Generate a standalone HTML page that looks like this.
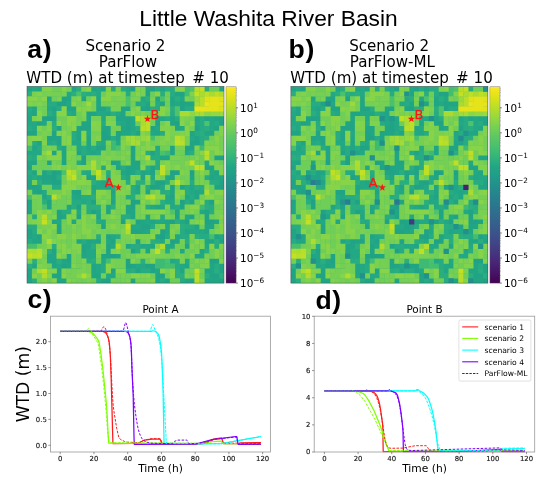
<!DOCTYPE html>
<html><head><meta charset="utf-8"><title>Little Washita River Basin</title>
<style>
html,body{margin:0;padding:0;background:#fff;}
body{width:550px;height:484px;overflow:hidden;}
svg{display:block;}
.ar{font-family:"Liberation Sans",Arial,Helvetica,sans-serif;fill:#000;}
.b{font-weight:bold;}
.dv{font-family:"DejaVu Sans","Liberation Sans",sans-serif;}
</style></head><body>
<svg width="550" height="484" viewBox="0 0 550 484">
<rect width="550" height="484" fill="#fff"/>
<text x="268.5" y="26.2" font-size="22.75" class="ar" text-anchor="middle">Little Washita River Basin</text>
<text x="27.3" y="58.3" font-size="26.6" letter-spacing="0.6" class="ar b">a)</text>
<text x="288.6" y="58.3" font-size="26.6" letter-spacing="0.6" class="ar b">b)</text>
<text x="27.4" y="308.4" font-size="26.6" letter-spacing="0.6" class="ar b">c)</text>
<text x="315.4" y="308.6" font-size="26.6" letter-spacing="0.6" class="ar b">d)</text>
<text x="125.4" y="50.5" font-size="15.1" class="dv" text-anchor="middle">Scenario 2</text>
<text x="127.9" y="66.9" font-size="15.1" class="dv" text-anchor="middle">ParFlow</text>
<text y="83.4" font-size="15.1" class="dv"><tspan x="26.3">WTD (m) at timestep</tspan><tspan x="192.2"># 10</tspan></text>
<text x="389.2" y="50.5" font-size="15.1" class="dv" text-anchor="middle">Scenario 2</text>
<text x="392.4" y="66.9" font-size="15.1" class="dv" text-anchor="middle">ParFlow-ML</text>
<text y="83.4" font-size="15.1" class="dv"><tspan x="290.2">WTD (m) at timestep</tspan><tspan x="456.1"># 10</tspan></text>
<defs><g id="hm"><path fill="#20a287" d="M130.4 86.5h5.2v5.2h-5.2zM150.1 86.5h5.2v5.2h-5.2zM61.5 96.3h5.2v5.2h-5.2zM56.5 101.2h10.2v5.2h-10.2zM145.2 106.2h5.2v5.2h-5.2zM41.8 116.0h10.2v5.2h-10.2zM36.9 120.9h5.2v5.2h-5.2zM155.0 120.9h5.2v5.2h-5.2zM174.8 120.9h5.2v5.2h-5.2zM219.1 120.9h5.2v5.2h-5.2zM56.5 125.8h5.2v5.2h-5.2zM125.5 125.8h5.2v5.2h-5.2zM194.4 125.8h5.2v5.2h-5.2zM100.9 130.7h5.2v5.2h-5.2zM100.9 135.7h10.2v5.2h-10.2zM194.4 140.6h5.2v5.2h-5.2zM76.2 150.4h5.2v5.2h-5.2zM81.2 155.3h5.2v5.2h-5.2zM61.5 160.2h5.2v5.2h-5.2zM81.2 160.2h5.2v5.2h-5.2zM110.7 160.2h5.2v5.2h-5.2zM27.0 165.1h5.2v5.2h-5.2zM51.6 170.1h5.2v5.2h-5.2zM125.5 170.1h5.2v5.2h-5.2zM169.8 170.1h5.2v5.2h-5.2zM189.5 170.1h5.2v5.2h-5.2zM51.6 175.0h5.2v5.2h-5.2zM86.1 175.0h5.2v5.2h-5.2zM51.6 179.9h5.2v5.2h-5.2zM160.0 179.9h5.2v5.2h-5.2zM150.1 184.8h5.2v5.2h-5.2zM219.1 184.8h5.2v5.2h-5.2zM36.9 189.7h5.2v5.2h-5.2zM76.2 189.7h5.2v5.2h-5.2zM46.7 199.5h5.2v5.2h-5.2zM91.0 199.5h5.2v5.2h-5.2zM130.4 199.5h5.2v5.2h-5.2zM179.7 199.5h5.2v5.2h-5.2zM209.2 199.5h5.2v5.2h-5.2zM76.2 204.5h5.2v5.2h-5.2zM130.4 204.5h5.2v5.2h-5.2zM56.5 209.4h5.2v5.2h-5.2zM91.0 209.4h5.2v5.2h-5.2zM56.5 214.3h5.2v5.2h-5.2zM76.2 214.3h5.2v5.2h-5.2zM120.6 219.2h5.2v5.2h-5.2zM169.8 219.2h5.2v5.2h-5.2zM184.6 219.2h5.2v5.2h-5.2zM204.3 219.2h10.2v5.2h-10.2zM160.0 234.0h5.2v5.2h-5.2zM214.2 234.0h5.2v5.2h-5.2zM169.8 238.9h5.2v5.2h-5.2zM130.4 248.7h5.2v5.2h-5.2zM105.8 253.6h10.2v5.2h-10.2zM66.4 258.5h5.2v5.2h-5.2zM209.2 258.5h10.2v5.2h-10.2zM61.5 263.4h5.2v5.2h-5.2zM125.5 263.4h5.2v5.2h-5.2zM27.0 273.3h5.2v5.2h-5.2zM56.5 273.3h5.2v5.2h-5.2zM219.1 278.2h5.2v5.2h-5.2z"/>
<path fill="#21a486" d="M27.0 86.5h5.2v5.2h-5.2zM71.3 86.5h5.2v5.2h-5.2zM100.9 86.5h5.2v5.2h-5.2zM219.1 86.5h5.2v5.2h-5.2zM145.2 91.4h5.2v5.2h-5.2zM179.7 91.4h5.2v5.2h-5.2zM66.4 96.3h5.2v5.2h-5.2zM81.2 96.3h5.2v5.2h-5.2zM160.0 101.2h5.2v5.2h-5.2zM179.7 101.2h5.2v5.2h-5.2zM51.6 106.2h5.2v5.2h-5.2zM66.4 106.2h10.2v5.2h-10.2zM96.0 106.2h10.2v5.2h-10.2zM140.3 106.2h5.2v5.2h-5.2zM179.7 106.2h5.2v5.2h-5.2zM31.9 111.1h5.2v5.2h-5.2zM86.1 111.1h10.2v5.2h-10.2zM51.6 116.0h5.2v5.2h-5.2zM115.6 116.0h5.2v5.2h-5.2zM125.5 116.0h5.2v5.2h-5.2zM219.1 116.0h5.2v5.2h-5.2zM86.1 120.9h5.2v5.2h-5.2zM125.5 120.9h5.2v5.2h-5.2zM169.8 120.9h5.2v5.2h-5.2zM76.2 125.8h15.1v5.2h-15.1zM150.1 125.8h5.2v5.2h-5.2zM27.0 130.7h10.2v5.2h-10.2zM51.6 130.7h5.2v5.2h-5.2zM115.6 130.7h5.2v5.2h-5.2zM135.3 130.7h5.2v5.2h-5.2zM209.2 130.7h5.2v5.2h-5.2zM46.7 135.7h15.1v5.2h-15.1zM76.2 135.7h5.2v5.2h-5.2zM115.6 135.7h5.2v5.2h-5.2zM194.4 135.7h5.2v5.2h-5.2zM36.9 140.6h5.2v5.2h-5.2zM56.5 140.6h5.2v5.2h-5.2zM189.5 140.6h5.2v5.2h-5.2zM96.0 145.5h10.2v5.2h-10.2zM130.4 145.5h5.2v5.2h-5.2zM169.8 145.5h5.2v5.2h-5.2zM184.6 145.5h10.2v5.2h-10.2zM51.6 150.4h5.2v5.2h-5.2zM150.1 150.4h5.2v5.2h-5.2zM214.2 155.3h10.2v5.2h-10.2zM31.9 160.2h5.2v5.2h-5.2zM46.7 160.2h5.2v5.2h-5.2zM135.3 160.2h5.2v5.2h-5.2zM115.6 165.1h5.2v5.2h-5.2zM125.5 165.1h5.2v5.2h-5.2zM150.1 165.1h5.2v5.2h-5.2zM204.3 165.1h10.2v5.2h-10.2zM41.8 170.1h5.2v5.2h-5.2zM140.3 170.1h5.2v5.2h-5.2zM150.1 170.1h5.2v5.2h-5.2zM174.8 170.1h5.2v5.2h-5.2zM41.8 175.0h10.2v5.2h-10.2zM140.3 175.0h5.2v5.2h-5.2zM27.0 179.9h5.2v5.2h-5.2zM56.5 179.9h5.2v5.2h-5.2zM155.0 179.9h5.2v5.2h-5.2zM219.1 179.9h5.2v5.2h-5.2zM27.0 184.8h10.2v5.2h-10.2zM135.3 184.8h5.2v5.2h-5.2zM155.0 184.8h5.2v5.2h-5.2zM169.8 184.8h5.2v5.2h-5.2zM179.7 184.8h5.2v5.2h-5.2zM214.2 184.8h5.2v5.2h-5.2zM71.3 189.7h5.2v5.2h-5.2zM110.7 189.7h5.2v5.2h-5.2zM145.2 189.7h5.2v5.2h-5.2zM169.8 194.6h5.2v5.2h-5.2zM27.0 199.5h5.2v5.2h-5.2zM110.7 199.5h5.2v5.2h-5.2zM135.3 199.5h5.2v5.2h-5.2zM189.5 199.5h5.2v5.2h-5.2zM46.7 204.5h5.2v5.2h-5.2zM179.7 204.5h5.2v5.2h-5.2zM27.0 209.4h5.2v5.2h-5.2zM105.8 209.4h5.2v5.2h-5.2zM174.8 209.4h5.2v5.2h-5.2zM204.3 209.4h5.2v5.2h-5.2zM174.8 214.3h5.2v5.2h-5.2zM189.5 214.3h5.2v5.2h-5.2zM204.3 214.3h5.2v5.2h-5.2zM135.3 219.2h5.2v5.2h-5.2zM56.5 224.1h5.2v5.2h-5.2zM100.9 224.1h5.2v5.2h-5.2zM140.3 224.1h10.2v5.2h-10.2zM194.4 224.1h5.2v5.2h-5.2zM27.0 229.0h5.2v5.2h-5.2zM56.5 229.0h5.2v5.2h-5.2zM130.4 229.0h10.2v5.2h-10.2zM160.0 229.0h5.2v5.2h-5.2zM36.9 234.0h5.2v5.2h-5.2zM105.8 234.0h5.2v5.2h-5.2zM155.0 234.0h5.2v5.2h-5.2zM86.1 238.9h5.2v5.2h-5.2zM96.0 238.9h5.2v5.2h-5.2zM110.7 238.9h5.2v5.2h-5.2zM135.3 238.9h5.2v5.2h-5.2zM174.8 238.9h5.2v5.2h-5.2zM209.2 238.9h5.2v5.2h-5.2zM219.1 238.9h5.2v5.2h-5.2zM81.2 243.8h5.2v5.2h-5.2zM105.8 243.8h5.2v5.2h-5.2zM184.6 243.8h5.2v5.2h-5.2zM51.6 248.7h5.2v5.2h-5.2zM81.2 248.7h5.2v5.2h-5.2zM105.8 248.7h5.2v5.2h-5.2zM46.7 253.6h5.2v5.2h-5.2zM66.4 253.6h5.2v5.2h-5.2zM100.9 253.6h5.2v5.2h-5.2zM51.6 258.5h5.2v5.2h-5.2zM125.5 258.5h5.2v5.2h-5.2zM130.4 263.4h5.2v5.2h-5.2zM145.2 263.4h10.2v5.2h-10.2zM219.1 263.4h5.2v5.2h-5.2zM27.0 268.4h5.2v5.2h-5.2zM56.5 268.4h5.2v5.2h-5.2zM110.7 268.4h5.2v5.2h-5.2zM135.3 268.4h5.2v5.2h-5.2zM150.1 268.4h5.2v5.2h-5.2zM219.1 268.4h5.2v5.2h-5.2zM51.6 273.3h5.2v5.2h-5.2zM155.0 273.3h10.2v5.2h-10.2zM209.2 273.3h10.2v5.2h-10.2zM27.0 278.2h5.2v5.2h-5.2zM105.8 278.2h5.2v5.2h-5.2z"/>
<path fill="#21a685" d="M36.9 86.5h5.2v5.2h-5.2zM91.0 86.5h5.2v5.2h-5.2zM145.2 86.5h5.2v5.2h-5.2zM160.0 86.5h5.2v5.2h-5.2zM174.8 91.4h5.2v5.2h-5.2zM46.7 96.3h5.2v5.2h-5.2zM96.0 96.3h5.2v5.2h-5.2zM155.0 96.3h5.2v5.2h-5.2zM169.8 96.3h5.2v5.2h-5.2zM96.0 101.2h5.2v5.2h-5.2zM145.2 101.2h5.2v5.2h-5.2zM169.8 101.2h5.2v5.2h-5.2zM184.6 101.2h10.2v5.2h-10.2zM31.9 106.2h5.2v5.2h-5.2zM120.6 106.2h10.2v5.2h-10.2zM105.8 111.1h5.2v5.2h-5.2zM120.6 111.1h5.2v5.2h-5.2zM27.0 116.0h5.2v5.2h-5.2zM86.1 116.0h5.2v5.2h-5.2zM120.6 116.0h5.2v5.2h-5.2zM155.0 116.0h5.2v5.2h-5.2zM169.8 116.0h5.2v5.2h-5.2zM194.4 116.0h5.2v5.2h-5.2zM204.3 116.0h5.2v5.2h-5.2zM214.2 116.0h5.2v5.2h-5.2zM41.8 120.9h5.2v5.2h-5.2zM81.2 120.9h5.2v5.2h-5.2zM100.9 125.8h10.2v5.2h-10.2zM120.6 125.8h5.2v5.2h-5.2zM174.8 125.8h5.2v5.2h-5.2zM214.2 125.8h5.2v5.2h-5.2zM76.2 130.7h5.2v5.2h-5.2zM105.8 130.7h5.2v5.2h-5.2zM120.6 130.7h10.2v5.2h-10.2zM155.0 130.7h5.2v5.2h-5.2zM189.5 130.7h5.2v5.2h-5.2zM204.3 130.7h5.2v5.2h-5.2zM86.1 135.7h5.2v5.2h-5.2zM86.1 140.6h5.2v5.2h-5.2zM31.9 145.5h5.2v5.2h-5.2zM61.5 145.5h5.2v5.2h-5.2zM86.1 145.5h5.2v5.2h-5.2zM61.5 150.4h5.2v5.2h-5.2zM91.0 150.4h5.2v5.2h-5.2zM130.4 150.4h5.2v5.2h-5.2zM169.8 150.4h5.2v5.2h-5.2zM61.5 155.3h5.2v5.2h-5.2zM130.4 155.3h5.2v5.2h-5.2zM160.0 155.3h10.2v5.2h-10.2zM27.0 160.2h5.2v5.2h-5.2zM115.6 160.2h5.2v5.2h-5.2zM130.4 160.2h5.2v5.2h-5.2zM130.4 165.1h10.2v5.2h-10.2zM31.9 170.1h5.2v5.2h-5.2zM56.5 170.1h5.2v5.2h-5.2zM120.6 170.1h5.2v5.2h-5.2zM130.4 170.1h5.2v5.2h-5.2zM214.2 170.1h5.2v5.2h-5.2zM91.0 175.0h5.2v5.2h-5.2zM125.5 175.0h5.2v5.2h-5.2zM169.8 175.0h5.2v5.2h-5.2zM189.5 175.0h5.2v5.2h-5.2zM209.2 175.0h5.2v5.2h-5.2zM41.8 179.9h10.2v5.2h-10.2zM100.9 179.9h5.2v5.2h-5.2zM36.9 184.8h5.2v5.2h-5.2zM91.0 184.8h5.2v5.2h-5.2zM105.8 184.8h5.2v5.2h-5.2zM189.5 184.8h5.2v5.2h-5.2zM31.9 189.7h5.2v5.2h-5.2zM169.8 189.7h5.2v5.2h-5.2zM194.4 189.7h5.2v5.2h-5.2zM41.8 194.6h5.2v5.2h-5.2zM76.2 194.6h5.2v5.2h-5.2zM184.6 194.6h5.2v5.2h-5.2zM194.4 194.6h5.2v5.2h-5.2zM27.0 204.5h5.2v5.2h-5.2zM66.4 204.5h5.2v5.2h-5.2zM105.8 204.5h5.2v5.2h-5.2zM125.5 204.5h5.2v5.2h-5.2zM155.0 204.5h5.2v5.2h-5.2zM125.5 209.4h10.2v5.2h-10.2zM61.5 214.3h5.2v5.2h-5.2zM96.0 214.3h5.2v5.2h-5.2zM130.4 214.3h5.2v5.2h-5.2zM145.2 214.3h5.2v5.2h-5.2zM51.6 219.2h5.2v5.2h-5.2zM71.3 219.2h5.2v5.2h-5.2zM140.3 219.2h5.2v5.2h-5.2zM150.1 219.2h5.2v5.2h-5.2zM164.9 219.2h5.2v5.2h-5.2zM214.2 219.2h5.2v5.2h-5.2zM204.3 224.1h10.2v5.2h-10.2zM140.3 229.0h5.2v5.2h-5.2zM184.6 229.0h5.2v5.2h-5.2zM204.3 229.0h5.2v5.2h-5.2zM27.0 234.0h5.2v5.2h-5.2zM174.8 234.0h5.2v5.2h-5.2zM31.9 238.9h10.2v5.2h-10.2zM76.2 238.9h5.2v5.2h-5.2zM91.0 238.9h5.2v5.2h-5.2zM204.3 238.9h5.2v5.2h-5.2zM86.1 243.8h5.2v5.2h-5.2zM125.5 243.8h5.2v5.2h-5.2zM150.1 243.8h5.2v5.2h-5.2zM145.2 248.7h5.2v5.2h-5.2zM199.4 248.7h5.2v5.2h-5.2zM51.6 253.6h5.2v5.2h-5.2zM81.2 253.6h5.2v5.2h-5.2zM115.6 253.6h5.2v5.2h-5.2zM46.7 258.5h5.2v5.2h-5.2zM61.5 258.5h5.2v5.2h-5.2zM31.9 263.4h5.2v5.2h-5.2zM51.6 263.4h5.2v5.2h-5.2zM66.4 263.4h5.2v5.2h-5.2zM91.0 263.4h5.2v5.2h-5.2zM184.6 263.4h5.2v5.2h-5.2zM209.2 263.4h5.2v5.2h-5.2zM91.0 268.4h5.2v5.2h-5.2zM179.7 268.4h5.2v5.2h-5.2zM204.3 268.4h10.2v5.2h-10.2zM91.0 273.3h10.2v5.2h-10.2zM56.5 278.2h10.2v5.2h-10.2zM100.9 278.2h5.2v5.2h-5.2zM130.4 278.2h5.2v5.2h-5.2zM155.0 278.2h5.2v5.2h-5.2zM164.9 278.2h5.2v5.2h-5.2zM184.6 278.2h10.2v5.2h-10.2zM204.3 278.2h15.1v5.2h-15.1z"/>
<path fill="#22a884" d="M31.9 86.5h5.2v5.2h-5.2zM96.0 86.5h5.2v5.2h-5.2zM125.5 86.5h5.2v5.2h-5.2zM66.4 91.4h5.2v5.2h-5.2zM96.0 91.4h5.2v5.2h-5.2zM140.3 96.3h5.2v5.2h-5.2zM179.7 96.3h5.2v5.2h-5.2zM66.4 101.2h5.2v5.2h-5.2zM135.3 101.2h5.2v5.2h-5.2zM174.8 101.2h5.2v5.2h-5.2zM46.7 106.2h5.2v5.2h-5.2zM27.0 111.1h5.2v5.2h-5.2zM51.6 111.1h5.2v5.2h-5.2zM71.3 111.1h5.2v5.2h-5.2zM96.0 111.1h10.2v5.2h-10.2zM115.6 111.1h5.2v5.2h-5.2zM100.9 116.0h5.2v5.2h-5.2zM130.4 116.0h5.2v5.2h-5.2zM160.0 116.0h5.2v5.2h-5.2zM209.2 116.0h5.2v5.2h-5.2zM27.0 120.9h10.2v5.2h-10.2zM120.6 120.9h5.2v5.2h-5.2zM130.4 120.9h5.2v5.2h-5.2zM194.4 120.9h5.2v5.2h-5.2zM209.2 120.9h5.2v5.2h-5.2zM31.9 125.8h5.2v5.2h-5.2zM130.4 125.8h5.2v5.2h-5.2zM155.0 125.8h5.2v5.2h-5.2zM179.7 125.8h5.2v5.2h-5.2zM209.2 125.8h5.2v5.2h-5.2zM86.1 130.7h5.2v5.2h-5.2zM150.1 130.7h5.2v5.2h-5.2zM189.5 135.7h5.2v5.2h-5.2zM46.7 140.6h5.2v5.2h-5.2zM71.3 140.6h10.2v5.2h-10.2zM100.9 140.6h5.2v5.2h-5.2zM115.6 140.6h5.2v5.2h-5.2zM76.2 145.5h5.2v5.2h-5.2zM155.0 145.5h5.2v5.2h-5.2zM27.0 150.4h15.1v5.2h-15.1zM86.1 150.4h5.2v5.2h-5.2zM96.0 150.4h5.2v5.2h-5.2zM184.6 150.4h5.2v5.2h-5.2zM204.3 160.2h5.2v5.2h-5.2zM100.9 165.1h5.2v5.2h-5.2zM86.1 170.1h5.2v5.2h-5.2zM145.2 170.1h5.2v5.2h-5.2zM209.2 170.1h5.2v5.2h-5.2zM27.0 175.0h5.2v5.2h-5.2zM36.9 175.0h5.2v5.2h-5.2zM105.8 175.0h5.2v5.2h-5.2zM150.1 175.0h5.2v5.2h-5.2zM164.9 175.0h5.2v5.2h-5.2zM214.2 175.0h10.2v5.2h-10.2zM96.0 179.9h5.2v5.2h-5.2zM96.0 184.8h10.2v5.2h-10.2zM160.0 184.8h5.2v5.2h-5.2zM41.8 189.7h5.2v5.2h-5.2zM91.0 189.7h5.2v5.2h-5.2zM135.3 189.7h5.2v5.2h-5.2zM189.5 189.7h5.2v5.2h-5.2zM199.4 189.7h5.2v5.2h-5.2zM71.3 194.6h5.2v5.2h-5.2zM110.7 194.6h5.2v5.2h-5.2zM164.9 194.6h5.2v5.2h-5.2zM81.2 199.5h5.2v5.2h-5.2zM164.9 199.5h10.2v5.2h-10.2zM150.1 204.5h5.2v5.2h-5.2zM160.0 204.5h5.2v5.2h-5.2zM169.8 204.5h5.2v5.2h-5.2zM76.2 209.4h5.2v5.2h-5.2zM96.0 209.4h5.2v5.2h-5.2zM199.4 209.4h5.2v5.2h-5.2zM184.6 214.3h5.2v5.2h-5.2zM56.5 219.2h5.2v5.2h-5.2zM100.9 219.2h5.2v5.2h-5.2zM145.2 219.2h5.2v5.2h-5.2zM155.0 219.2h10.2v5.2h-10.2zM179.7 219.2h5.2v5.2h-5.2zM130.4 224.1h10.2v5.2h-10.2zM164.9 224.1h5.2v5.2h-5.2zM145.2 229.0h5.2v5.2h-5.2zM164.9 229.0h5.2v5.2h-5.2zM189.5 229.0h15.1v5.2h-15.1zM31.9 234.0h5.2v5.2h-5.2zM110.7 234.0h5.2v5.2h-5.2zM219.1 234.0h5.2v5.2h-5.2zM105.8 238.9h5.2v5.2h-5.2zM160.0 238.9h5.2v5.2h-5.2zM110.7 243.8h5.2v5.2h-5.2zM140.3 243.8h10.2v5.2h-10.2zM164.9 243.8h10.2v5.2h-10.2zM204.3 243.8h5.2v5.2h-5.2zM86.1 248.7h10.2v5.2h-10.2zM179.7 248.7h5.2v5.2h-5.2zM86.1 253.6h10.2v5.2h-10.2zM194.4 253.6h10.2v5.2h-10.2zM100.9 258.5h5.2v5.2h-5.2zM169.8 258.5h5.2v5.2h-5.2zM184.6 258.5h5.2v5.2h-5.2zM56.5 263.4h5.2v5.2h-5.2zM96.0 263.4h5.2v5.2h-5.2zM135.3 263.4h10.2v5.2h-10.2zM179.7 263.4h5.2v5.2h-5.2zM96.0 268.4h5.2v5.2h-5.2zM155.0 268.4h5.2v5.2h-5.2zM105.8 273.3h10.2v5.2h-10.2z"/>
<path fill="#26ab82" d="M110.7 86.5h5.2v5.2h-5.2zM120.6 86.5h5.2v5.2h-5.2zM155.0 86.5h5.2v5.2h-5.2zM164.9 86.5h10.2v5.2h-10.2zM204.3 86.5h5.2v5.2h-5.2zM86.1 91.4h5.2v5.2h-5.2zM125.5 91.4h5.2v5.2h-5.2zM169.8 91.4h5.2v5.2h-5.2zM46.7 101.2h10.2v5.2h-10.2zM140.3 101.2h5.2v5.2h-5.2zM155.0 101.2h5.2v5.2h-5.2zM27.0 106.2h5.2v5.2h-5.2zM56.5 106.2h5.2v5.2h-5.2zM105.8 106.2h5.2v5.2h-5.2zM155.0 106.2h5.2v5.2h-5.2zM184.6 106.2h10.2v5.2h-10.2zM66.4 111.1h5.2v5.2h-5.2zM169.8 111.1h5.2v5.2h-5.2zM164.9 116.0h5.2v5.2h-5.2zM174.8 116.0h5.2v5.2h-5.2zM199.4 116.0h5.2v5.2h-5.2zM51.6 120.9h5.2v5.2h-5.2zM100.9 120.9h5.2v5.2h-5.2zM115.6 120.9h5.2v5.2h-5.2zM199.4 120.9h5.2v5.2h-5.2zM214.2 120.9h5.2v5.2h-5.2zM27.0 125.8h5.2v5.2h-5.2zM199.4 125.8h5.2v5.2h-5.2zM71.3 130.7h5.2v5.2h-5.2zM130.4 130.7h5.2v5.2h-5.2zM160.0 130.7h5.2v5.2h-5.2zM194.4 130.7h5.2v5.2h-5.2zM71.3 135.7h5.2v5.2h-5.2zM110.7 135.7h5.2v5.2h-5.2zM199.4 135.7h5.2v5.2h-5.2zM31.9 140.6h5.2v5.2h-5.2zM51.6 140.6h5.2v5.2h-5.2zM96.0 140.6h5.2v5.2h-5.2zM199.4 140.6h5.2v5.2h-5.2zM36.9 145.5h5.2v5.2h-5.2zM56.5 145.5h5.2v5.2h-5.2zM81.2 145.5h5.2v5.2h-5.2zM91.0 145.5h5.2v5.2h-5.2zM81.2 150.4h5.2v5.2h-5.2zM145.2 150.4h5.2v5.2h-5.2zM155.0 150.4h5.2v5.2h-5.2zM31.9 155.3h5.2v5.2h-5.2zM150.1 155.3h10.2v5.2h-10.2zM76.2 160.2h5.2v5.2h-5.2zM155.0 160.2h5.2v5.2h-5.2zM120.6 165.1h5.2v5.2h-5.2zM155.0 165.1h5.2v5.2h-5.2zM27.0 170.1h5.2v5.2h-5.2zM46.7 170.1h5.2v5.2h-5.2zM81.2 170.1h5.2v5.2h-5.2zM105.8 170.1h5.2v5.2h-5.2zM31.9 175.0h5.2v5.2h-5.2zM56.5 175.0h5.2v5.2h-5.2zM120.6 175.0h5.2v5.2h-5.2zM204.3 175.0h5.2v5.2h-5.2zM125.5 179.9h5.2v5.2h-5.2zM164.9 179.9h5.2v5.2h-5.2zM189.5 179.9h5.2v5.2h-5.2zM209.2 179.9h10.2v5.2h-10.2zM51.6 184.8h10.2v5.2h-10.2zM110.7 184.8h5.2v5.2h-5.2zM130.4 184.8h5.2v5.2h-5.2zM145.2 184.8h5.2v5.2h-5.2zM184.6 184.8h5.2v5.2h-5.2zM199.4 184.8h5.2v5.2h-5.2zM130.4 189.7h5.2v5.2h-5.2zM160.0 189.7h5.2v5.2h-5.2zM184.6 189.7h5.2v5.2h-5.2zM46.7 194.6h5.2v5.2h-5.2zM81.2 194.6h10.2v5.2h-10.2zM125.5 194.6h5.2v5.2h-5.2zM189.5 194.6h5.2v5.2h-5.2zM71.3 199.5h10.2v5.2h-10.2zM86.1 199.5h5.2v5.2h-5.2zM184.6 199.5h5.2v5.2h-5.2zM204.3 199.5h5.2v5.2h-5.2zM145.2 204.5h5.2v5.2h-5.2zM174.8 204.5h5.2v5.2h-5.2zM209.2 204.5h5.2v5.2h-5.2zM61.5 209.4h10.2v5.2h-10.2zM86.1 209.4h5.2v5.2h-5.2zM31.9 214.3h5.2v5.2h-5.2zM120.6 214.3h10.2v5.2h-10.2zM160.0 214.3h5.2v5.2h-5.2zM96.0 219.2h5.2v5.2h-5.2zM27.0 224.1h10.2v5.2h-10.2zM150.1 224.1h5.2v5.2h-5.2zM184.6 224.1h10.2v5.2h-10.2zM31.9 229.0h5.2v5.2h-5.2zM179.7 229.0h5.2v5.2h-5.2zM96.0 234.0h5.2v5.2h-5.2zM115.6 234.0h5.2v5.2h-5.2zM164.9 234.0h5.2v5.2h-5.2zM179.7 234.0h10.2v5.2h-10.2zM199.4 234.0h10.2v5.2h-10.2zM27.0 238.9h5.2v5.2h-5.2zM81.2 238.9h5.2v5.2h-5.2zM155.0 238.9h5.2v5.2h-5.2zM51.6 243.8h5.2v5.2h-5.2zM130.4 243.8h10.2v5.2h-10.2zM214.2 243.8h5.2v5.2h-5.2zM135.3 248.7h5.2v5.2h-5.2zM164.9 248.7h5.2v5.2h-5.2zM86.1 258.5h5.2v5.2h-5.2zM174.8 258.5h5.2v5.2h-5.2zM100.9 263.4h5.2v5.2h-5.2zM174.8 263.4h5.2v5.2h-5.2zM214.2 263.4h5.2v5.2h-5.2zM100.9 268.4h5.2v5.2h-5.2zM125.5 268.4h5.2v5.2h-5.2zM140.3 268.4h10.2v5.2h-10.2zM96.0 278.2h5.2v5.2h-5.2zM160.0 278.2h5.2v5.2h-5.2zM179.7 278.2h5.2v5.2h-5.2z"/>
<path fill="#2aae80" d="M76.2 86.5h5.2v5.2h-5.2zM27.0 91.4h5.2v5.2h-5.2zM71.3 91.4h5.2v5.2h-5.2zM81.2 91.4h5.2v5.2h-5.2zM91.0 91.4h5.2v5.2h-5.2zM160.0 91.4h5.2v5.2h-5.2zM145.2 96.3h5.2v5.2h-5.2zM174.8 96.3h5.2v5.2h-5.2zM150.1 106.2h5.2v5.2h-5.2zM169.8 106.2h5.2v5.2h-5.2zM46.7 111.1h5.2v5.2h-5.2zM110.7 111.1h5.2v5.2h-5.2zM51.6 125.8h5.2v5.2h-5.2zM135.3 125.8h5.2v5.2h-5.2zM204.3 125.8h5.2v5.2h-5.2zM199.4 130.7h5.2v5.2h-5.2zM204.3 135.7h5.2v5.2h-5.2zM189.5 150.4h5.2v5.2h-5.2zM27.0 155.3h5.2v5.2h-5.2zM145.2 165.1h5.2v5.2h-5.2zM135.3 170.1h5.2v5.2h-5.2zM36.9 179.9h5.2v5.2h-5.2zM91.0 179.9h5.2v5.2h-5.2zM105.8 179.9h5.2v5.2h-5.2zM135.3 179.9h10.2v5.2h-10.2zM150.1 179.9h5.2v5.2h-5.2zM194.4 184.8h5.2v5.2h-5.2zM164.9 189.7h5.2v5.2h-5.2zM91.0 194.6h5.2v5.2h-5.2zM130.4 194.6h5.2v5.2h-5.2zM41.8 199.5h5.2v5.2h-5.2zM160.0 199.5h5.2v5.2h-5.2zM71.3 204.5h5.2v5.2h-5.2zM86.1 204.5h15.1v5.2h-15.1zM110.7 204.5h5.2v5.2h-5.2zM204.3 204.5h5.2v5.2h-5.2zM209.2 209.4h5.2v5.2h-5.2zM174.8 219.2h5.2v5.2h-5.2zM179.7 224.1h5.2v5.2h-5.2zM194.4 234.0h5.2v5.2h-5.2zM150.1 238.9h5.2v5.2h-5.2zM184.6 238.9h5.2v5.2h-5.2zM214.2 238.9h5.2v5.2h-5.2zM91.0 243.8h5.2v5.2h-5.2zM46.7 248.7h5.2v5.2h-5.2zM204.3 248.7h5.2v5.2h-5.2zM31.9 258.5h5.2v5.2h-5.2zM56.5 258.5h5.2v5.2h-5.2zM91.0 258.5h5.2v5.2h-5.2zM140.3 258.5h5.2v5.2h-5.2zM27.0 263.4h5.2v5.2h-5.2zM130.4 268.4h5.2v5.2h-5.2zM174.8 268.4h5.2v5.2h-5.2zM214.2 268.4h5.2v5.2h-5.2zM174.8 273.3h10.2v5.2h-10.2zM204.3 273.3h5.2v5.2h-5.2zM219.1 273.3h5.2v5.2h-5.2zM31.9 278.2h5.2v5.2h-5.2z"/>
<path fill="#3dbb74" d="M110.7 140.6h5.2v5.2h-5.2zM110.7 145.5h5.2v5.2h-5.2zM199.4 145.5h5.2v5.2h-5.2zM164.9 150.4h5.2v5.2h-5.2zM199.4 204.5h5.2v5.2h-5.2zM155.0 258.5h10.2v5.2h-10.2zM155.0 263.4h10.2v5.2h-10.2z"/>
<path fill="#42bd72" d="M184.6 86.5h5.2v5.2h-5.2zM184.6 91.4h5.2v5.2h-5.2zM27.0 145.5h5.2v5.2h-5.2zM209.2 234.0h5.2v5.2h-5.2zM105.8 258.5h5.2v5.2h-5.2zM169.8 263.4h5.2v5.2h-5.2z"/>
<path fill="#46bf6f" d="M150.1 135.7h5.2v5.2h-5.2zM27.0 194.6h5.2v5.2h-5.2zM27.0 243.8h10.2v5.2h-10.2zM164.9 263.4h5.2v5.2h-5.2z"/>
<path fill="#4ac16d" d="M76.2 91.4h5.2v5.2h-5.2zM125.5 96.3h5.2v5.2h-5.2zM160.0 96.3h5.2v5.2h-5.2zM125.5 101.2h5.2v5.2h-5.2zM115.6 145.5h5.2v5.2h-5.2zM160.0 150.4h5.2v5.2h-5.2zM61.5 170.1h5.2v5.2h-5.2zM164.9 258.5h5.2v5.2h-5.2z"/>
<path fill="#4ec36b" d="M189.5 86.5h5.2v5.2h-5.2zM174.8 106.2h5.2v5.2h-5.2zM174.8 111.1h5.2v5.2h-5.2zM204.3 120.9h5.2v5.2h-5.2zM41.8 204.5h5.2v5.2h-5.2zM169.8 209.4h5.2v5.2h-5.2z"/>
<path fill="#6fce58" d="M51.6 86.5h10.2v5.2h-10.2zM209.2 86.5h10.2v5.2h-10.2zM100.9 91.4h5.2v5.2h-5.2zM150.1 91.4h5.2v5.2h-5.2zM164.9 91.4h5.2v5.2h-5.2zM51.6 96.3h5.2v5.2h-5.2zM86.1 96.3h5.2v5.2h-5.2zM189.5 96.3h5.2v5.2h-5.2zM130.4 101.2h5.2v5.2h-5.2zM164.9 101.2h5.2v5.2h-5.2zM41.8 106.2h5.2v5.2h-5.2zM41.8 111.1h5.2v5.2h-5.2zM76.2 111.1h5.2v5.2h-5.2zM150.1 111.1h5.2v5.2h-5.2zM164.9 111.1h5.2v5.2h-5.2zM56.5 116.0h10.2v5.2h-10.2zM76.2 116.0h5.2v5.2h-5.2zM150.1 116.0h5.2v5.2h-5.2zM135.3 120.9h5.2v5.2h-5.2zM150.1 120.9h5.2v5.2h-5.2zM160.0 120.9h5.2v5.2h-5.2zM184.6 120.9h5.2v5.2h-5.2zM41.8 125.8h5.2v5.2h-5.2zM189.5 125.8h5.2v5.2h-5.2zM36.9 130.7h5.2v5.2h-5.2zM209.2 135.7h5.2v5.2h-5.2zM81.2 140.6h5.2v5.2h-5.2zM140.3 140.6h5.2v5.2h-5.2zM150.1 140.6h5.2v5.2h-5.2zM41.8 145.5h5.2v5.2h-5.2zM105.8 145.5h5.2v5.2h-5.2zM125.5 145.5h5.2v5.2h-5.2zM160.0 145.5h5.2v5.2h-5.2zM105.8 150.4h5.2v5.2h-5.2zM115.6 150.4h5.2v5.2h-5.2zM179.7 150.4h5.2v5.2h-5.2zM209.2 150.4h5.2v5.2h-5.2zM76.2 155.3h5.2v5.2h-5.2zM86.1 155.3h5.2v5.2h-5.2zM96.0 155.3h5.2v5.2h-5.2zM184.6 155.3h5.2v5.2h-5.2zM199.4 155.3h5.2v5.2h-5.2zM209.2 155.3h5.2v5.2h-5.2zM36.9 160.2h10.2v5.2h-10.2zM56.5 160.2h5.2v5.2h-5.2zM96.0 160.2h5.2v5.2h-5.2zM120.6 160.2h5.2v5.2h-5.2zM140.3 160.2h5.2v5.2h-5.2zM199.4 160.2h5.2v5.2h-5.2zM219.1 160.2h5.2v5.2h-5.2zM31.9 165.1h20.0v5.2h-20.0zM110.7 165.1h5.2v5.2h-5.2zM155.0 170.1h5.2v5.2h-5.2zM61.5 175.0h5.2v5.2h-5.2zM76.2 175.0h5.2v5.2h-5.2zM179.7 175.0h5.2v5.2h-5.2zM194.4 175.0h5.2v5.2h-5.2zM61.5 179.9h5.2v5.2h-5.2zM184.6 179.9h5.2v5.2h-5.2zM41.8 184.8h10.2v5.2h-10.2zM81.2 184.8h5.2v5.2h-5.2zM174.8 184.8h5.2v5.2h-5.2zM209.2 184.8h5.2v5.2h-5.2zM46.7 189.7h5.2v5.2h-5.2zM150.1 189.7h5.2v5.2h-5.2zM209.2 189.7h5.2v5.2h-5.2zM61.5 194.6h5.2v5.2h-5.2zM100.9 194.6h5.2v5.2h-5.2zM135.3 194.6h5.2v5.2h-5.2zM179.7 194.6h5.2v5.2h-5.2zM31.9 199.5h5.2v5.2h-5.2zM56.5 199.5h10.2v5.2h-10.2zM105.8 199.5h5.2v5.2h-5.2zM145.2 199.5h5.2v5.2h-5.2zM155.0 199.5h5.2v5.2h-5.2zM174.8 199.5h5.2v5.2h-5.2zM194.4 199.5h5.2v5.2h-5.2zM31.9 204.5h5.2v5.2h-5.2zM51.6 204.5h15.1v5.2h-15.1zM81.2 204.5h5.2v5.2h-5.2zM214.2 204.5h5.2v5.2h-5.2zM31.9 209.4h5.2v5.2h-5.2zM51.6 209.4h5.2v5.2h-5.2zM179.7 209.4h5.2v5.2h-5.2zM169.8 214.3h5.2v5.2h-5.2zM194.4 214.3h5.2v5.2h-5.2zM209.2 214.3h5.2v5.2h-5.2zM61.5 219.2h5.2v5.2h-5.2zM91.0 219.2h5.2v5.2h-5.2zM105.8 219.2h10.2v5.2h-10.2zM130.4 219.2h5.2v5.2h-5.2zM66.4 224.1h5.2v5.2h-5.2zM76.2 224.1h5.2v5.2h-5.2zM96.0 224.1h5.2v5.2h-5.2zM155.0 224.1h5.2v5.2h-5.2zM199.4 224.1h5.2v5.2h-5.2zM214.2 224.1h5.2v5.2h-5.2zM41.8 229.0h5.2v5.2h-5.2zM61.5 229.0h10.2v5.2h-10.2zM91.0 229.0h5.2v5.2h-5.2zM105.8 229.0h5.2v5.2h-5.2zM174.8 229.0h5.2v5.2h-5.2zM209.2 229.0h5.2v5.2h-5.2zM81.2 234.0h5.2v5.2h-5.2zM66.4 238.9h5.2v5.2h-5.2zM115.6 238.9h5.2v5.2h-5.2zM140.3 238.9h5.2v5.2h-5.2zM189.5 238.9h5.2v5.2h-5.2zM36.9 243.8h5.2v5.2h-5.2zM66.4 243.8h5.2v5.2h-5.2zM179.7 243.8h5.2v5.2h-5.2zM56.5 248.7h5.2v5.2h-5.2zM100.9 248.7h5.2v5.2h-5.2zM120.6 248.7h10.2v5.2h-10.2zM169.8 248.7h5.2v5.2h-5.2zM184.6 248.7h10.2v5.2h-10.2zM209.2 248.7h5.2v5.2h-5.2zM76.2 253.6h5.2v5.2h-5.2zM120.6 253.6h5.2v5.2h-5.2zM169.8 253.6h5.2v5.2h-5.2zM184.6 253.6h5.2v5.2h-5.2zM209.2 253.6h5.2v5.2h-5.2zM219.1 253.6h5.2v5.2h-5.2zM36.9 258.5h5.2v5.2h-5.2zM76.2 258.5h5.2v5.2h-5.2zM96.0 258.5h5.2v5.2h-5.2zM135.3 258.5h5.2v5.2h-5.2zM145.2 258.5h5.2v5.2h-5.2zM189.5 258.5h5.2v5.2h-5.2zM194.4 263.4h5.2v5.2h-5.2zM184.6 268.4h5.2v5.2h-5.2zM150.1 273.3h5.2v5.2h-5.2zM164.9 273.3h5.2v5.2h-5.2zM189.5 273.3h5.2v5.2h-5.2zM199.4 273.3h5.2v5.2h-5.2zM46.7 278.2h5.2v5.2h-5.2zM81.2 278.2h5.2v5.2h-5.2zM91.0 278.2h5.2v5.2h-5.2zM115.6 278.2h5.2v5.2h-5.2zM169.8 278.2h10.2v5.2h-10.2z"/>
<path fill="#74cf54" d="M66.4 86.5h5.2v5.2h-5.2zM41.8 91.4h5.2v5.2h-5.2zM51.6 91.4h10.2v5.2h-10.2zM130.4 91.4h5.2v5.2h-5.2zM110.7 96.3h5.2v5.2h-5.2zM164.9 96.3h5.2v5.2h-5.2zM41.8 101.2h5.2v5.2h-5.2zM76.2 101.2h5.2v5.2h-5.2zM91.0 101.2h5.2v5.2h-5.2zM100.9 101.2h10.2v5.2h-10.2zM115.6 101.2h10.2v5.2h-10.2zM150.1 101.2h5.2v5.2h-5.2zM36.9 106.2h5.2v5.2h-5.2zM91.0 106.2h5.2v5.2h-5.2zM110.7 106.2h10.2v5.2h-10.2zM125.5 111.1h5.2v5.2h-5.2zM145.2 111.1h5.2v5.2h-5.2zM91.0 116.0h10.2v5.2h-10.2zM110.7 116.0h5.2v5.2h-5.2zM189.5 116.0h5.2v5.2h-5.2zM61.5 120.9h5.2v5.2h-5.2zM76.2 120.9h5.2v5.2h-5.2zM61.5 125.8h5.2v5.2h-5.2zM110.7 125.8h10.2v5.2h-10.2zM46.7 130.7h5.2v5.2h-5.2zM66.4 130.7h5.2v5.2h-5.2zM91.0 130.7h10.2v5.2h-10.2zM110.7 130.7h5.2v5.2h-5.2zM214.2 130.7h5.2v5.2h-5.2zM41.8 135.7h5.2v5.2h-5.2zM120.6 135.7h5.2v5.2h-5.2zM155.0 135.7h5.2v5.2h-5.2zM169.8 135.7h5.2v5.2h-5.2zM184.6 135.7h5.2v5.2h-5.2zM219.1 135.7h5.2v5.2h-5.2zM91.0 140.6h5.2v5.2h-5.2zM155.0 140.6h5.2v5.2h-5.2zM184.6 140.6h5.2v5.2h-5.2zM219.1 140.6h5.2v5.2h-5.2zM51.6 145.5h5.2v5.2h-5.2zM66.4 145.5h5.2v5.2h-5.2zM164.9 145.5h5.2v5.2h-5.2zM219.1 145.5h5.2v5.2h-5.2zM174.8 150.4h5.2v5.2h-5.2zM194.4 150.4h5.2v5.2h-5.2zM41.8 155.3h5.2v5.2h-5.2zM91.0 155.3h5.2v5.2h-5.2zM125.5 155.3h5.2v5.2h-5.2zM179.7 155.3h5.2v5.2h-5.2zM189.5 155.3h5.2v5.2h-5.2zM105.8 160.2h5.2v5.2h-5.2zM150.1 160.2h5.2v5.2h-5.2zM169.8 160.2h15.1v5.2h-15.1zM194.4 160.2h5.2v5.2h-5.2zM61.5 165.1h5.2v5.2h-5.2zM96.0 165.1h5.2v5.2h-5.2zM179.7 165.1h5.2v5.2h-5.2zM189.5 165.1h5.2v5.2h-5.2zM76.2 170.1h5.2v5.2h-5.2zM115.6 170.1h5.2v5.2h-5.2zM164.9 170.1h5.2v5.2h-5.2zM194.4 170.1h5.2v5.2h-5.2zM204.3 170.1h5.2v5.2h-5.2zM160.0 175.0h5.2v5.2h-5.2zM184.6 175.0h5.2v5.2h-5.2zM31.9 179.9h5.2v5.2h-5.2zM145.2 179.9h5.2v5.2h-5.2zM169.8 179.9h5.2v5.2h-5.2zM194.4 179.9h5.2v5.2h-5.2zM204.3 179.9h5.2v5.2h-5.2zM76.2 184.8h5.2v5.2h-5.2zM86.1 184.8h5.2v5.2h-5.2zM115.6 184.8h5.2v5.2h-5.2zM140.3 184.8h5.2v5.2h-5.2zM51.6 189.7h10.2v5.2h-10.2zM105.8 189.7h5.2v5.2h-5.2zM140.3 189.7h5.2v5.2h-5.2zM36.9 194.6h5.2v5.2h-5.2zM66.4 194.6h5.2v5.2h-5.2zM120.6 194.6h5.2v5.2h-5.2zM199.4 194.6h5.2v5.2h-5.2zM214.2 194.6h10.2v5.2h-10.2zM36.9 199.5h5.2v5.2h-5.2zM51.6 199.5h5.2v5.2h-5.2zM96.0 199.5h5.2v5.2h-5.2zM120.6 199.5h5.2v5.2h-5.2zM36.9 204.5h5.2v5.2h-5.2zM100.9 204.5h5.2v5.2h-5.2zM135.3 204.5h5.2v5.2h-5.2zM219.1 204.5h5.2v5.2h-5.2zM115.6 209.4h5.2v5.2h-5.2zM135.3 209.4h5.2v5.2h-5.2zM164.9 209.4h5.2v5.2h-5.2zM194.4 209.4h5.2v5.2h-5.2zM86.1 214.3h5.2v5.2h-5.2zM100.9 214.3h5.2v5.2h-5.2zM135.3 214.3h5.2v5.2h-5.2zM150.1 214.3h5.2v5.2h-5.2zM179.7 214.3h5.2v5.2h-5.2zM199.4 214.3h5.2v5.2h-5.2zM86.1 219.2h5.2v5.2h-5.2zM115.6 219.2h5.2v5.2h-5.2zM36.9 224.1h5.2v5.2h-5.2zM61.5 224.1h5.2v5.2h-5.2zM120.6 224.1h5.2v5.2h-5.2zM169.8 224.1h5.2v5.2h-5.2zM51.6 229.0h5.2v5.2h-5.2zM76.2 229.0h5.2v5.2h-5.2zM100.9 229.0h5.2v5.2h-5.2zM110.7 229.0h10.2v5.2h-10.2zM150.1 229.0h5.2v5.2h-5.2zM51.6 234.0h5.2v5.2h-5.2zM66.4 234.0h5.2v5.2h-5.2zM91.0 234.0h5.2v5.2h-5.2zM61.5 238.9h5.2v5.2h-5.2zM125.5 238.9h5.2v5.2h-5.2zM164.9 238.9h5.2v5.2h-5.2zM179.7 238.9h5.2v5.2h-5.2zM41.8 243.8h5.2v5.2h-5.2zM96.0 243.8h5.2v5.2h-5.2zM174.8 243.8h5.2v5.2h-5.2zM194.4 243.8h5.2v5.2h-5.2zM140.3 248.7h5.2v5.2h-5.2zM160.0 248.7h5.2v5.2h-5.2zM174.8 248.7h5.2v5.2h-5.2zM219.1 248.7h5.2v5.2h-5.2zM41.8 253.6h5.2v5.2h-5.2zM61.5 253.6h5.2v5.2h-5.2zM130.4 253.6h5.2v5.2h-5.2zM164.9 253.6h5.2v5.2h-5.2zM27.0 258.5h5.2v5.2h-5.2zM115.6 258.5h10.2v5.2h-10.2zM46.7 263.4h5.2v5.2h-5.2zM76.2 263.4h5.2v5.2h-5.2zM86.1 263.4h5.2v5.2h-5.2zM115.6 263.4h10.2v5.2h-10.2zM31.9 268.4h5.2v5.2h-5.2zM71.3 268.4h5.2v5.2h-5.2zM86.1 268.4h5.2v5.2h-5.2zM164.9 268.4h5.2v5.2h-5.2zM189.5 268.4h5.2v5.2h-5.2zM36.9 273.3h5.2v5.2h-5.2zM66.4 273.3h10.2v5.2h-10.2zM100.9 273.3h5.2v5.2h-5.2zM115.6 273.3h5.2v5.2h-5.2zM125.5 273.3h5.2v5.2h-5.2zM36.9 278.2h5.2v5.2h-5.2zM76.2 278.2h5.2v5.2h-5.2zM110.7 278.2h5.2v5.2h-5.2zM120.6 278.2h5.2v5.2h-5.2zM135.3 278.2h10.2v5.2h-10.2z"/>
<path fill="#7ad151" d="M81.2 86.5h5.2v5.2h-5.2zM115.6 86.5h5.2v5.2h-5.2zM140.3 86.5h5.2v5.2h-5.2zM31.9 91.4h5.2v5.2h-5.2zM46.7 91.4h5.2v5.2h-5.2zM61.5 91.4h5.2v5.2h-5.2zM120.6 91.4h5.2v5.2h-5.2zM140.3 91.4h5.2v5.2h-5.2zM36.9 96.3h5.2v5.2h-5.2zM56.5 96.3h5.2v5.2h-5.2zM71.3 96.3h5.2v5.2h-5.2zM115.6 96.3h10.2v5.2h-10.2zM130.4 96.3h10.2v5.2h-10.2zM150.1 96.3h5.2v5.2h-5.2zM184.6 96.3h5.2v5.2h-5.2zM31.9 101.2h5.2v5.2h-5.2zM81.2 101.2h5.2v5.2h-5.2zM110.7 101.2h5.2v5.2h-5.2zM130.4 106.2h5.2v5.2h-5.2zM164.9 106.2h5.2v5.2h-5.2zM135.3 111.1h5.2v5.2h-5.2zM155.0 111.1h5.2v5.2h-5.2zM31.9 116.0h5.2v5.2h-5.2zM81.2 116.0h5.2v5.2h-5.2zM105.8 116.0h5.2v5.2h-5.2zM184.6 116.0h5.2v5.2h-5.2zM46.7 120.9h5.2v5.2h-5.2zM66.4 125.8h5.2v5.2h-5.2zM169.8 125.8h5.2v5.2h-5.2zM41.8 130.7h5.2v5.2h-5.2zM145.2 130.7h5.2v5.2h-5.2zM169.8 130.7h10.2v5.2h-10.2zM91.0 135.7h5.2v5.2h-5.2zM160.0 135.7h5.2v5.2h-5.2zM105.8 140.6h5.2v5.2h-5.2zM164.9 140.6h10.2v5.2h-10.2zM209.2 140.6h5.2v5.2h-5.2zM46.7 145.5h5.2v5.2h-5.2zM71.3 145.5h5.2v5.2h-5.2zM135.3 145.5h5.2v5.2h-5.2zM174.8 145.5h10.2v5.2h-10.2zM100.9 150.4h5.2v5.2h-5.2zM110.7 150.4h5.2v5.2h-5.2zM120.6 150.4h5.2v5.2h-5.2zM135.3 150.4h5.2v5.2h-5.2zM71.3 155.3h5.2v5.2h-5.2zM100.9 155.3h5.2v5.2h-5.2zM110.7 155.3h10.2v5.2h-10.2zM140.3 155.3h5.2v5.2h-5.2zM169.8 155.3h10.2v5.2h-10.2zM51.6 160.2h5.2v5.2h-5.2zM66.4 160.2h10.2v5.2h-10.2zM86.1 160.2h5.2v5.2h-5.2zM160.0 160.2h5.2v5.2h-5.2zM214.2 160.2h5.2v5.2h-5.2zM71.3 165.1h5.2v5.2h-5.2zM169.8 165.1h5.2v5.2h-5.2zM184.6 165.1h5.2v5.2h-5.2zM36.9 170.1h5.2v5.2h-5.2zM100.9 170.1h5.2v5.2h-5.2zM184.6 170.1h5.2v5.2h-5.2zM135.3 175.0h5.2v5.2h-5.2zM199.4 175.0h5.2v5.2h-5.2zM120.6 179.9h5.2v5.2h-5.2zM130.4 179.9h5.2v5.2h-5.2zM199.4 179.9h5.2v5.2h-5.2zM120.6 184.8h5.2v5.2h-5.2zM164.9 184.8h5.2v5.2h-5.2zM27.0 189.7h5.2v5.2h-5.2zM66.4 189.7h5.2v5.2h-5.2zM81.2 189.7h5.2v5.2h-5.2zM125.5 189.7h5.2v5.2h-5.2zM31.9 194.6h5.2v5.2h-5.2zM105.8 194.6h5.2v5.2h-5.2zM115.6 194.6h5.2v5.2h-5.2zM66.4 199.5h5.2v5.2h-5.2zM115.6 199.5h5.2v5.2h-5.2zM125.5 199.5h5.2v5.2h-5.2zM219.1 199.5h5.2v5.2h-5.2zM115.6 204.5h5.2v5.2h-5.2zM164.9 204.5h5.2v5.2h-5.2zM184.6 204.5h5.2v5.2h-5.2zM41.8 209.4h5.2v5.2h-5.2zM81.2 209.4h5.2v5.2h-5.2zM100.9 209.4h5.2v5.2h-5.2zM120.6 209.4h5.2v5.2h-5.2zM184.6 209.4h5.2v5.2h-5.2zM214.2 209.4h10.2v5.2h-10.2zM27.0 214.3h5.2v5.2h-5.2zM46.7 214.3h5.2v5.2h-5.2zM105.8 214.3h5.2v5.2h-5.2zM115.6 214.3h5.2v5.2h-5.2zM140.3 214.3h5.2v5.2h-5.2zM164.9 214.3h5.2v5.2h-5.2zM214.2 214.3h5.2v5.2h-5.2zM27.0 219.2h5.2v5.2h-5.2zM76.2 219.2h5.2v5.2h-5.2zM189.5 219.2h5.2v5.2h-5.2zM219.1 219.2h5.2v5.2h-5.2zM41.8 224.1h10.2v5.2h-10.2zM86.1 224.1h10.2v5.2h-10.2zM105.8 224.1h5.2v5.2h-5.2zM115.6 224.1h5.2v5.2h-5.2zM160.0 224.1h5.2v5.2h-5.2zM71.3 229.0h5.2v5.2h-5.2zM96.0 229.0h5.2v5.2h-5.2zM76.2 234.0h5.2v5.2h-5.2zM100.9 234.0h5.2v5.2h-5.2zM120.6 234.0h10.2v5.2h-10.2zM135.3 234.0h15.1v5.2h-15.1zM169.8 234.0h5.2v5.2h-5.2zM189.5 234.0h5.2v5.2h-5.2zM41.8 238.9h5.2v5.2h-5.2zM56.5 238.9h5.2v5.2h-5.2zM71.3 238.9h5.2v5.2h-5.2zM100.9 238.9h5.2v5.2h-5.2zM120.6 238.9h5.2v5.2h-5.2zM130.4 238.9h5.2v5.2h-5.2zM145.2 238.9h5.2v5.2h-5.2zM199.4 238.9h5.2v5.2h-5.2zM120.6 243.8h5.2v5.2h-5.2zM71.3 248.7h5.2v5.2h-5.2zM194.4 248.7h5.2v5.2h-5.2zM71.3 253.6h5.2v5.2h-5.2zM96.0 253.6h5.2v5.2h-5.2zM125.5 253.6h5.2v5.2h-5.2zM155.0 253.6h10.2v5.2h-10.2zM179.7 253.6h5.2v5.2h-5.2zM204.3 253.6h5.2v5.2h-5.2zM41.8 258.5h5.2v5.2h-5.2zM71.3 258.5h5.2v5.2h-5.2zM110.7 258.5h5.2v5.2h-5.2zM179.7 258.5h5.2v5.2h-5.2zM199.4 258.5h5.2v5.2h-5.2zM41.8 263.4h5.2v5.2h-5.2zM81.2 263.4h5.2v5.2h-5.2zM110.7 263.4h5.2v5.2h-5.2zM189.5 263.4h5.2v5.2h-5.2zM66.4 268.4h5.2v5.2h-5.2zM76.2 268.4h10.2v5.2h-10.2zM199.4 268.4h5.2v5.2h-5.2zM120.6 273.3h5.2v5.2h-5.2zM184.6 273.3h5.2v5.2h-5.2zM71.3 278.2h5.2v5.2h-5.2zM86.1 278.2h5.2v5.2h-5.2zM125.5 278.2h5.2v5.2h-5.2zM145.2 278.2h5.2v5.2h-5.2z"/>
<path fill="#81d34d" d="M41.8 86.5h10.2v5.2h-10.2zM105.8 86.5h5.2v5.2h-5.2zM135.3 86.5h5.2v5.2h-5.2zM174.8 86.5h5.2v5.2h-5.2zM36.9 91.4h5.2v5.2h-5.2zM189.5 91.4h5.2v5.2h-5.2zM76.2 96.3h5.2v5.2h-5.2zM27.0 101.2h5.2v5.2h-5.2zM36.9 101.2h5.2v5.2h-5.2zM81.2 106.2h5.2v5.2h-5.2zM81.2 111.1h5.2v5.2h-5.2zM140.3 111.1h5.2v5.2h-5.2zM36.9 116.0h5.2v5.2h-5.2zM179.7 116.0h5.2v5.2h-5.2zM71.3 120.9h5.2v5.2h-5.2zM96.0 120.9h5.2v5.2h-5.2zM105.8 120.9h10.2v5.2h-10.2zM36.9 125.8h5.2v5.2h-5.2zM46.7 125.8h5.2v5.2h-5.2zM91.0 125.8h10.2v5.2h-10.2zM160.0 125.8h10.2v5.2h-10.2zM219.1 125.8h5.2v5.2h-5.2zM56.5 130.7h5.2v5.2h-5.2zM179.7 130.7h5.2v5.2h-5.2zM219.1 130.7h5.2v5.2h-5.2zM27.0 135.7h5.2v5.2h-5.2zM61.5 135.7h5.2v5.2h-5.2zM96.0 135.7h5.2v5.2h-5.2zM27.0 140.6h5.2v5.2h-5.2zM41.8 140.6h5.2v5.2h-5.2zM61.5 140.6h5.2v5.2h-5.2zM120.6 140.6h5.2v5.2h-5.2zM160.0 140.6h5.2v5.2h-5.2zM204.3 140.6h5.2v5.2h-5.2zM214.2 140.6h5.2v5.2h-5.2zM120.6 145.5h5.2v5.2h-5.2zM140.3 145.5h5.2v5.2h-5.2zM150.1 145.5h5.2v5.2h-5.2zM194.4 145.5h5.2v5.2h-5.2zM66.4 150.4h10.2v5.2h-10.2zM125.5 150.4h5.2v5.2h-5.2zM219.1 150.4h5.2v5.2h-5.2zM36.9 155.3h5.2v5.2h-5.2zM66.4 155.3h5.2v5.2h-5.2zM105.8 155.3h5.2v5.2h-5.2zM120.6 155.3h5.2v5.2h-5.2zM135.3 155.3h5.2v5.2h-5.2zM194.4 155.3h5.2v5.2h-5.2zM125.5 160.2h5.2v5.2h-5.2zM145.2 160.2h5.2v5.2h-5.2zM51.6 165.1h5.2v5.2h-5.2zM140.3 165.1h5.2v5.2h-5.2zM214.2 165.1h10.2v5.2h-10.2zM110.7 170.1h5.2v5.2h-5.2zM179.7 170.1h5.2v5.2h-5.2zM219.1 170.1h5.2v5.2h-5.2zM110.7 175.0h10.2v5.2h-10.2zM130.4 175.0h5.2v5.2h-5.2zM174.8 175.0h5.2v5.2h-5.2zM71.3 179.9h5.2v5.2h-5.2zM86.1 179.9h5.2v5.2h-5.2zM179.7 179.9h5.2v5.2h-5.2zM86.1 189.7h5.2v5.2h-5.2zM115.6 189.7h10.2v5.2h-10.2zM155.0 189.7h5.2v5.2h-5.2zM174.8 189.7h5.2v5.2h-5.2zM214.2 189.7h5.2v5.2h-5.2zM96.0 194.6h5.2v5.2h-5.2zM140.3 194.6h5.2v5.2h-5.2zM120.6 204.5h5.2v5.2h-5.2zM140.3 204.5h5.2v5.2h-5.2zM110.7 209.4h5.2v5.2h-5.2zM140.3 209.4h5.2v5.2h-5.2zM189.5 209.4h5.2v5.2h-5.2zM51.6 214.3h5.2v5.2h-5.2zM71.3 214.3h5.2v5.2h-5.2zM155.0 214.3h5.2v5.2h-5.2zM31.9 219.2h5.2v5.2h-5.2zM194.4 219.2h5.2v5.2h-5.2zM71.3 224.1h5.2v5.2h-5.2zM174.8 224.1h5.2v5.2h-5.2zM120.6 229.0h5.2v5.2h-5.2zM155.0 229.0h5.2v5.2h-5.2zM169.8 229.0h5.2v5.2h-5.2zM214.2 229.0h5.2v5.2h-5.2zM46.7 234.0h5.2v5.2h-5.2zM86.1 234.0h5.2v5.2h-5.2zM51.6 238.9h5.2v5.2h-5.2zM56.5 243.8h5.2v5.2h-5.2zM71.3 243.8h10.2v5.2h-10.2zM100.9 243.8h5.2v5.2h-5.2zM189.5 243.8h5.2v5.2h-5.2zM199.4 243.8h5.2v5.2h-5.2zM219.1 243.8h5.2v5.2h-5.2zM41.8 248.7h5.2v5.2h-5.2zM66.4 248.7h5.2v5.2h-5.2zM76.2 248.7h5.2v5.2h-5.2zM96.0 248.7h5.2v5.2h-5.2zM110.7 248.7h5.2v5.2h-5.2zM135.3 253.6h20.0v5.2h-20.0zM174.8 253.6h5.2v5.2h-5.2zM81.2 258.5h5.2v5.2h-5.2zM130.4 258.5h5.2v5.2h-5.2zM194.4 258.5h5.2v5.2h-5.2zM219.1 258.5h5.2v5.2h-5.2zM36.9 263.4h5.2v5.2h-5.2zM71.3 263.4h5.2v5.2h-5.2zM199.4 263.4h10.2v5.2h-10.2zM46.7 268.4h10.2v5.2h-10.2zM61.5 268.4h5.2v5.2h-5.2zM140.3 273.3h5.2v5.2h-5.2zM41.8 278.2h5.2v5.2h-5.2zM66.4 278.2h5.2v5.2h-5.2zM150.1 278.2h5.2v5.2h-5.2z"/>
<path fill="#87d449" d="M61.5 86.5h5.2v5.2h-5.2zM86.1 86.5h5.2v5.2h-5.2zM179.7 86.5h5.2v5.2h-5.2zM105.8 91.4h15.1v5.2h-15.1zM135.3 91.4h5.2v5.2h-5.2zM155.0 91.4h5.2v5.2h-5.2zM27.0 96.3h10.2v5.2h-10.2zM41.8 96.3h5.2v5.2h-5.2zM91.0 96.3h5.2v5.2h-5.2zM100.9 96.3h10.2v5.2h-10.2zM71.3 101.2h5.2v5.2h-5.2zM61.5 106.2h5.2v5.2h-5.2zM76.2 106.2h5.2v5.2h-5.2zM86.1 106.2h5.2v5.2h-5.2zM135.3 106.2h5.2v5.2h-5.2zM160.0 106.2h5.2v5.2h-5.2zM36.9 111.1h5.2v5.2h-5.2zM56.5 111.1h10.2v5.2h-10.2zM130.4 111.1h5.2v5.2h-5.2zM160.0 111.1h5.2v5.2h-5.2zM66.4 116.0h10.2v5.2h-10.2zM56.5 120.9h5.2v5.2h-5.2zM66.4 120.9h5.2v5.2h-5.2zM91.0 120.9h5.2v5.2h-5.2zM164.9 120.9h5.2v5.2h-5.2zM179.7 120.9h5.2v5.2h-5.2zM189.5 120.9h5.2v5.2h-5.2zM71.3 125.8h5.2v5.2h-5.2zM184.6 125.8h5.2v5.2h-5.2zM61.5 130.7h5.2v5.2h-5.2zM81.2 130.7h5.2v5.2h-5.2zM140.3 130.7h5.2v5.2h-5.2zM164.9 130.7h5.2v5.2h-5.2zM184.6 130.7h5.2v5.2h-5.2zM31.9 135.7h10.2v5.2h-10.2zM66.4 135.7h5.2v5.2h-5.2zM81.2 135.7h5.2v5.2h-5.2zM164.9 135.7h5.2v5.2h-5.2zM214.2 135.7h5.2v5.2h-5.2zM66.4 140.6h5.2v5.2h-5.2zM145.2 140.6h5.2v5.2h-5.2zM145.2 145.5h5.2v5.2h-5.2zM204.3 145.5h15.1v5.2h-15.1zM41.8 150.4h5.2v5.2h-5.2zM56.5 150.4h5.2v5.2h-5.2zM140.3 150.4h5.2v5.2h-5.2zM199.4 150.4h5.2v5.2h-5.2zM214.2 150.4h5.2v5.2h-5.2zM46.7 155.3h15.1v5.2h-15.1zM100.9 160.2h5.2v5.2h-5.2zM164.9 160.2h5.2v5.2h-5.2zM184.6 160.2h5.2v5.2h-5.2zM209.2 160.2h5.2v5.2h-5.2zM56.5 165.1h5.2v5.2h-5.2zM66.4 165.1h5.2v5.2h-5.2zM76.2 165.1h15.1v5.2h-15.1zM105.8 165.1h5.2v5.2h-5.2zM164.9 165.1h5.2v5.2h-5.2zM174.8 165.1h5.2v5.2h-5.2zM91.0 170.1h5.2v5.2h-5.2zM199.4 170.1h5.2v5.2h-5.2zM81.2 175.0h5.2v5.2h-5.2zM100.9 175.0h5.2v5.2h-5.2zM145.2 175.0h5.2v5.2h-5.2zM155.0 175.0h5.2v5.2h-5.2zM66.4 179.9h5.2v5.2h-5.2zM76.2 179.9h10.2v5.2h-10.2zM110.7 179.9h10.2v5.2h-10.2zM61.5 184.8h15.1v5.2h-15.1zM125.5 184.8h5.2v5.2h-5.2zM204.3 184.8h5.2v5.2h-5.2zM61.5 189.7h5.2v5.2h-5.2zM96.0 189.7h10.2v5.2h-10.2zM179.7 189.7h5.2v5.2h-5.2zM219.1 189.7h5.2v5.2h-5.2zM56.5 194.6h5.2v5.2h-5.2zM155.0 194.6h10.2v5.2h-10.2zM174.8 194.6h5.2v5.2h-5.2zM204.3 194.6h10.2v5.2h-10.2zM100.9 199.5h5.2v5.2h-5.2zM140.3 199.5h5.2v5.2h-5.2zM150.1 199.5h5.2v5.2h-5.2zM199.4 199.5h5.2v5.2h-5.2zM214.2 199.5h5.2v5.2h-5.2zM189.5 204.5h10.2v5.2h-10.2zM36.9 209.4h5.2v5.2h-5.2zM46.7 209.4h5.2v5.2h-5.2zM71.3 209.4h5.2v5.2h-5.2zM145.2 209.4h20.0v5.2h-20.0zM36.9 214.3h5.2v5.2h-5.2zM66.4 214.3h5.2v5.2h-5.2zM81.2 214.3h5.2v5.2h-5.2zM91.0 214.3h5.2v5.2h-5.2zM110.7 214.3h5.2v5.2h-5.2zM219.1 214.3h5.2v5.2h-5.2zM36.9 219.2h5.2v5.2h-5.2zM46.7 219.2h5.2v5.2h-5.2zM66.4 219.2h5.2v5.2h-5.2zM81.2 219.2h5.2v5.2h-5.2zM125.5 219.2h5.2v5.2h-5.2zM199.4 219.2h5.2v5.2h-5.2zM51.6 224.1h5.2v5.2h-5.2zM81.2 224.1h5.2v5.2h-5.2zM110.7 224.1h5.2v5.2h-5.2zM219.1 224.1h5.2v5.2h-5.2zM36.9 229.0h5.2v5.2h-5.2zM46.7 229.0h5.2v5.2h-5.2zM81.2 229.0h10.2v5.2h-10.2zM219.1 229.0h5.2v5.2h-5.2zM41.8 234.0h5.2v5.2h-5.2zM56.5 234.0h10.2v5.2h-10.2zM71.3 234.0h5.2v5.2h-5.2zM130.4 234.0h5.2v5.2h-5.2zM150.1 234.0h5.2v5.2h-5.2zM194.4 238.9h5.2v5.2h-5.2zM46.7 243.8h5.2v5.2h-5.2zM61.5 243.8h5.2v5.2h-5.2zM155.0 243.8h5.2v5.2h-5.2zM209.2 243.8h5.2v5.2h-5.2zM61.5 248.7h5.2v5.2h-5.2zM115.6 248.7h5.2v5.2h-5.2zM150.1 248.7h5.2v5.2h-5.2zM214.2 248.7h5.2v5.2h-5.2zM56.5 253.6h5.2v5.2h-5.2zM189.5 253.6h5.2v5.2h-5.2zM214.2 253.6h5.2v5.2h-5.2zM150.1 258.5h5.2v5.2h-5.2zM204.3 258.5h5.2v5.2h-5.2zM105.8 263.4h5.2v5.2h-5.2zM105.8 268.4h5.2v5.2h-5.2zM115.6 268.4h10.2v5.2h-10.2zM160.0 268.4h5.2v5.2h-5.2zM169.8 268.4h5.2v5.2h-5.2zM31.9 273.3h5.2v5.2h-5.2zM46.7 273.3h5.2v5.2h-5.2zM61.5 273.3h5.2v5.2h-5.2zM76.2 273.3h5.2v5.2h-5.2zM86.1 273.3h5.2v5.2h-5.2zM130.4 273.3h10.2v5.2h-10.2zM145.2 273.3h5.2v5.2h-5.2zM169.8 273.3h5.2v5.2h-5.2zM51.6 278.2h5.2v5.2h-5.2zM199.4 278.2h5.2v5.2h-5.2z"/>
<path fill="#8ed644" d="M189.5 111.1h5.2v5.2h-5.2zM204.3 111.1h5.2v5.2h-5.2zM135.3 135.7h5.2v5.2h-5.2zM125.5 140.6h5.2v5.2h-5.2z"/>
<path fill="#94d740" d="M209.2 111.1h10.2v5.2h-10.2zM140.3 135.7h5.2v5.2h-5.2z"/>
<path fill="#9bd93c" d="M194.4 96.3h5.2v5.2h-5.2zM86.1 101.2h5.2v5.2h-5.2zM219.1 111.1h5.2v5.2h-5.2zM125.5 135.7h5.2v5.2h-5.2zM145.2 135.7h5.2v5.2h-5.2z"/>
<path fill="#a2da38" d="M194.4 111.1h5.2v5.2h-5.2zM130.4 135.7h5.2v5.2h-5.2zM135.3 140.6h5.2v5.2h-5.2zM46.7 150.4h5.2v5.2h-5.2z"/>
<path fill="#a9db33" d="M199.4 91.4h5.2v5.2h-5.2zM209.2 91.4h5.2v5.2h-5.2zM194.4 101.2h5.2v5.2h-5.2zM179.7 111.1h10.2v5.2h-10.2zM199.4 111.1h5.2v5.2h-5.2zM145.2 116.0h5.2v5.2h-5.2zM140.3 120.9h5.2v5.2h-5.2zM179.7 135.7h5.2v5.2h-5.2zM130.4 140.6h5.2v5.2h-5.2zM145.2 155.3h5.2v5.2h-5.2zM91.0 165.1h5.2v5.2h-5.2zM71.3 170.1h5.2v5.2h-5.2zM66.4 175.0h5.2v5.2h-5.2zM204.3 189.7h5.2v5.2h-5.2zM31.9 248.7h5.2v5.2h-5.2zM36.9 268.4h5.2v5.2h-5.2z"/>
<path fill="#afdd2f" d="M219.1 91.4h5.2v5.2h-5.2zM140.3 116.0h5.2v5.2h-5.2zM91.0 160.2h5.2v5.2h-5.2zM96.0 175.0h5.2v5.2h-5.2zM145.2 194.6h5.2v5.2h-5.2zM125.5 229.0h5.2v5.2h-5.2zM46.7 238.9h5.2v5.2h-5.2zM115.6 243.8h5.2v5.2h-5.2zM160.0 243.8h5.2v5.2h-5.2zM27.0 248.7h5.2v5.2h-5.2zM41.8 273.3h5.2v5.2h-5.2zM81.2 273.3h5.2v5.2h-5.2z"/>
<path fill="#b6de2a" d="M194.4 86.5h5.2v5.2h-5.2zM199.4 96.3h5.2v5.2h-5.2zM199.4 101.2h5.2v5.2h-5.2zM140.3 125.8h5.2v5.2h-5.2zM174.8 135.7h5.2v5.2h-5.2zM179.7 140.6h5.2v5.2h-5.2zM204.3 155.3h5.2v5.2h-5.2zM199.4 165.1h5.2v5.2h-5.2zM174.8 179.9h5.2v5.2h-5.2zM51.6 194.6h5.2v5.2h-5.2zM150.1 194.6h5.2v5.2h-5.2zM41.8 214.3h5.2v5.2h-5.2zM36.9 248.7h5.2v5.2h-5.2zM31.9 253.6h5.2v5.2h-5.2zM194.4 273.3h5.2v5.2h-5.2zM194.4 278.2h5.2v5.2h-5.2z"/>
<path fill="#bddf26" d="M204.3 91.4h5.2v5.2h-5.2zM214.2 91.4h5.2v5.2h-5.2zM135.3 116.0h5.2v5.2h-5.2zM145.2 120.9h5.2v5.2h-5.2zM145.2 125.8h5.2v5.2h-5.2zM174.8 140.6h5.2v5.2h-5.2zM204.3 150.4h5.2v5.2h-5.2zM189.5 160.2h5.2v5.2h-5.2zM160.0 165.1h5.2v5.2h-5.2zM194.4 165.1h5.2v5.2h-5.2zM66.4 170.1h5.2v5.2h-5.2zM160.0 170.1h5.2v5.2h-5.2zM155.0 248.7h5.2v5.2h-5.2zM36.9 253.6h5.2v5.2h-5.2zM41.8 268.4h5.2v5.2h-5.2z"/>
<path fill="#c4e023" d="M199.4 86.5h5.2v5.2h-5.2zM194.4 91.4h5.2v5.2h-5.2zM96.0 170.1h5.2v5.2h-5.2zM71.3 175.0h5.2v5.2h-5.2zM41.8 219.2h5.2v5.2h-5.2zM125.5 224.1h5.2v5.2h-5.2zM27.0 253.6h5.2v5.2h-5.2zM194.4 268.4h5.2v5.2h-5.2z"/>
<path fill="#dfe318" d="M204.3 96.3h5.2v5.2h-5.2zM219.1 96.3h5.2v5.2h-5.2zM219.1 106.2h5.2v5.2h-5.2z"/>
<path fill="#e5e41b" d="M209.2 96.3h10.2v5.2h-10.2zM209.2 101.2h15.1v5.2h-15.1zM194.4 106.2h24.9v5.2h-24.9z"/>
<path fill="#ebe51d" d="M204.3 101.2h5.2v5.2h-5.2z"/></g></defs>
<rect x="27.00" y="86.50" width="197.00" height="196.60" fill="#22a884"/>
<rect x="290.90" y="86.50" width="197.00" height="196.60" fill="#22a884"/>
<clipPath id="ha"><rect x="27.00" y="86.50" width="197.00" height="196.60"/></clipPath>
<g clip-path="url(#ha)"><use href="#hm"/></g>
<g transform="translate(263.9,0)"><g clip-path="url(#ha)"><use href="#hm"/><path fill="#482172" d="M199.4 184.8h5.2v5.2h-5.2z"/>
<path fill="#433a82" d="M145.2 219.2h5.2v5.2h-5.2z"/>
<path fill="#297a8e" d="M130.4 199.5h5.2v5.2h-5.2z"/>
<path fill="#287d8e" d="M46.7 179.9h5.2v5.2h-5.2zM81.2 199.5h5.2v5.2h-5.2z"/>
<path fill="#228e8c" d="M61.5 101.2h5.2v5.2h-5.2zM194.4 135.7h5.2v5.2h-5.2zM51.6 179.9h5.2v5.2h-5.2zM179.7 199.5h5.2v5.2h-5.2zM209.2 199.5h5.2v5.2h-5.2z"/>
<path fill="#21918c" d="M219.1 86.5h5.2v5.2h-5.2zM140.3 91.4h5.2v5.2h-5.2zM155.0 101.2h5.2v5.2h-5.2zM115.6 116.0h5.2v5.2h-5.2zM164.9 116.0h5.2v5.2h-5.2zM115.6 140.6h5.2v5.2h-5.2zM130.4 145.5h5.2v5.2h-5.2zM86.1 150.4h5.2v5.2h-5.2zM184.6 150.4h5.2v5.2h-5.2zM105.8 155.3h5.2v5.2h-5.2zM160.0 155.3h5.2v5.2h-5.2zM41.8 175.0h5.2v5.2h-5.2zM184.6 184.8h5.2v5.2h-5.2zM41.8 189.7h5.2v5.2h-5.2zM110.7 199.5h5.2v5.2h-5.2zM125.5 209.4h5.2v5.2h-5.2zM164.9 219.2h5.2v5.2h-5.2zM189.5 224.1h5.2v5.2h-5.2zM199.4 229.0h5.2v5.2h-5.2zM31.9 234.0h5.2v5.2h-5.2zM179.7 248.7h5.2v5.2h-5.2zM81.2 253.6h5.2v5.2h-5.2zM46.7 258.5h5.2v5.2h-5.2zM31.9 263.4h5.2v5.2h-5.2zM140.3 263.4h5.2v5.2h-5.2zM96.0 273.3h5.2v5.2h-5.2zM160.0 273.3h5.2v5.2h-5.2zM184.6 278.2h5.2v5.2h-5.2zM204.3 278.2h5.2v5.2h-5.2z"/>
<path fill="#21948b" d="M199.4 130.7h5.2v5.2h-5.2zM120.6 165.1h5.2v5.2h-5.2zM76.2 199.5h5.2v5.2h-5.2zM214.2 243.8h5.2v5.2h-5.2z"/>
<path fill="#1f9b8a" d="M125.5 116.0h5.2v5.2h-5.2zM46.7 165.1h5.2v5.2h-5.2zM56.5 214.3h5.2v5.2h-5.2z"/></g></g>
<rect x="27.00" y="86.50" width="197.00" height="196.60" fill="none" stroke="#444" stroke-width="0.5"/>
<defs><linearGradient id="cb0" x1="0" y1="0" x2="0" y2="1"><stop offset="0.00" stop-color="#fde725"/><stop offset="0.05" stop-color="#dfe318"/><stop offset="0.10" stop-color="#bddf26"/><stop offset="0.15" stop-color="#9bd93c"/><stop offset="0.20" stop-color="#7ad151"/><stop offset="0.25" stop-color="#5ec962"/><stop offset="0.30" stop-color="#4ac16d"/><stop offset="0.35" stop-color="#35b779"/><stop offset="0.40" stop-color="#22a884"/><stop offset="0.45" stop-color="#1f9e89"/><stop offset="0.50" stop-color="#21918c"/><stop offset="0.55" stop-color="#25848e"/><stop offset="0.60" stop-color="#2a788e"/><stop offset="0.65" stop-color="#2f6c8e"/><stop offset="0.70" stop-color="#355f8d"/><stop offset="0.75" stop-color="#3b528b"/><stop offset="0.80" stop-color="#414487"/><stop offset="0.85" stop-color="#45347f"/><stop offset="0.90" stop-color="#482475"/><stop offset="0.95" stop-color="#471365"/><stop offset="1.00" stop-color="#440154"/></linearGradient></defs><rect x="226.00" y="86.80" width="10.10" height="196.30" fill="url(#cb0)"/><line x1="236.10" y1="283.10" x2="237.90" y2="283.10" stroke="#222" stroke-width="0.6"/><text x="240.10" y="286.90" font-size="10.4" class="dv">10<tspan dy="-4" font-size="7.3">−6</tspan></text><line x1="236.10" y1="275.56" x2="237.10" y2="275.56" stroke="#555" stroke-width="0.3"/><line x1="236.10" y1="271.15" x2="237.10" y2="271.15" stroke="#555" stroke-width="0.3"/><line x1="236.10" y1="268.02" x2="237.10" y2="268.02" stroke="#555" stroke-width="0.3"/><line x1="236.10" y1="265.59" x2="237.10" y2="265.59" stroke="#555" stroke-width="0.3"/><line x1="236.10" y1="263.61" x2="237.10" y2="263.61" stroke="#555" stroke-width="0.3"/><line x1="236.10" y1="261.93" x2="237.10" y2="261.93" stroke="#555" stroke-width="0.3"/><line x1="236.10" y1="260.48" x2="237.10" y2="260.48" stroke="#555" stroke-width="0.3"/><line x1="236.10" y1="259.20" x2="237.10" y2="259.20" stroke="#555" stroke-width="0.3"/><line x1="236.10" y1="258.05" x2="237.90" y2="258.05" stroke="#222" stroke-width="0.6"/><text x="240.10" y="261.85" font-size="10.4" class="dv">10<tspan dy="-4" font-size="7.3">−5</tspan></text><line x1="236.10" y1="250.51" x2="237.10" y2="250.51" stroke="#555" stroke-width="0.3"/><line x1="236.10" y1="246.10" x2="237.10" y2="246.10" stroke="#555" stroke-width="0.3"/><line x1="236.10" y1="242.97" x2="237.10" y2="242.97" stroke="#555" stroke-width="0.3"/><line x1="236.10" y1="240.54" x2="237.10" y2="240.54" stroke="#555" stroke-width="0.3"/><line x1="236.10" y1="238.56" x2="237.10" y2="238.56" stroke="#555" stroke-width="0.3"/><line x1="236.10" y1="236.88" x2="237.10" y2="236.88" stroke="#555" stroke-width="0.3"/><line x1="236.10" y1="235.43" x2="237.10" y2="235.43" stroke="#555" stroke-width="0.3"/><line x1="236.10" y1="234.15" x2="237.10" y2="234.15" stroke="#555" stroke-width="0.3"/><line x1="236.10" y1="233.00" x2="237.90" y2="233.00" stroke="#222" stroke-width="0.6"/><text x="240.10" y="236.80" font-size="10.4" class="dv">10<tspan dy="-4" font-size="7.3">−4</tspan></text><line x1="236.10" y1="225.46" x2="237.10" y2="225.46" stroke="#555" stroke-width="0.3"/><line x1="236.10" y1="221.05" x2="237.10" y2="221.05" stroke="#555" stroke-width="0.3"/><line x1="236.10" y1="217.92" x2="237.10" y2="217.92" stroke="#555" stroke-width="0.3"/><line x1="236.10" y1="215.49" x2="237.10" y2="215.49" stroke="#555" stroke-width="0.3"/><line x1="236.10" y1="213.51" x2="237.10" y2="213.51" stroke="#555" stroke-width="0.3"/><line x1="236.10" y1="211.83" x2="237.10" y2="211.83" stroke="#555" stroke-width="0.3"/><line x1="236.10" y1="210.38" x2="237.10" y2="210.38" stroke="#555" stroke-width="0.3"/><line x1="236.10" y1="209.10" x2="237.10" y2="209.10" stroke="#555" stroke-width="0.3"/><line x1="236.10" y1="207.95" x2="237.90" y2="207.95" stroke="#222" stroke-width="0.6"/><text x="240.10" y="211.75" font-size="10.4" class="dv">10<tspan dy="-4" font-size="7.3">−3</tspan></text><line x1="236.10" y1="200.41" x2="237.10" y2="200.41" stroke="#555" stroke-width="0.3"/><line x1="236.10" y1="196.00" x2="237.10" y2="196.00" stroke="#555" stroke-width="0.3"/><line x1="236.10" y1="192.87" x2="237.10" y2="192.87" stroke="#555" stroke-width="0.3"/><line x1="236.10" y1="190.44" x2="237.10" y2="190.44" stroke="#555" stroke-width="0.3"/><line x1="236.10" y1="188.46" x2="237.10" y2="188.46" stroke="#555" stroke-width="0.3"/><line x1="236.10" y1="186.78" x2="237.10" y2="186.78" stroke="#555" stroke-width="0.3"/><line x1="236.10" y1="185.33" x2="237.10" y2="185.33" stroke="#555" stroke-width="0.3"/><line x1="236.10" y1="184.05" x2="237.10" y2="184.05" stroke="#555" stroke-width="0.3"/><line x1="236.10" y1="182.90" x2="237.90" y2="182.90" stroke="#222" stroke-width="0.6"/><text x="240.10" y="186.70" font-size="10.4" class="dv">10<tspan dy="-4" font-size="7.3">−2</tspan></text><line x1="236.10" y1="175.36" x2="237.10" y2="175.36" stroke="#555" stroke-width="0.3"/><line x1="236.10" y1="170.95" x2="237.10" y2="170.95" stroke="#555" stroke-width="0.3"/><line x1="236.10" y1="167.82" x2="237.10" y2="167.82" stroke="#555" stroke-width="0.3"/><line x1="236.10" y1="165.39" x2="237.10" y2="165.39" stroke="#555" stroke-width="0.3"/><line x1="236.10" y1="163.41" x2="237.10" y2="163.41" stroke="#555" stroke-width="0.3"/><line x1="236.10" y1="161.73" x2="237.10" y2="161.73" stroke="#555" stroke-width="0.3"/><line x1="236.10" y1="160.28" x2="237.10" y2="160.28" stroke="#555" stroke-width="0.3"/><line x1="236.10" y1="159.00" x2="237.10" y2="159.00" stroke="#555" stroke-width="0.3"/><line x1="236.10" y1="157.85" x2="237.90" y2="157.85" stroke="#222" stroke-width="0.6"/><text x="240.10" y="161.65" font-size="10.4" class="dv">10<tspan dy="-4" font-size="7.3">−1</tspan></text><line x1="236.10" y1="150.31" x2="237.10" y2="150.31" stroke="#555" stroke-width="0.3"/><line x1="236.10" y1="145.90" x2="237.10" y2="145.90" stroke="#555" stroke-width="0.3"/><line x1="236.10" y1="142.77" x2="237.10" y2="142.77" stroke="#555" stroke-width="0.3"/><line x1="236.10" y1="140.34" x2="237.10" y2="140.34" stroke="#555" stroke-width="0.3"/><line x1="236.10" y1="138.36" x2="237.10" y2="138.36" stroke="#555" stroke-width="0.3"/><line x1="236.10" y1="136.68" x2="237.10" y2="136.68" stroke="#555" stroke-width="0.3"/><line x1="236.10" y1="135.23" x2="237.10" y2="135.23" stroke="#555" stroke-width="0.3"/><line x1="236.10" y1="133.95" x2="237.10" y2="133.95" stroke="#555" stroke-width="0.3"/><line x1="236.10" y1="132.80" x2="237.90" y2="132.80" stroke="#222" stroke-width="0.6"/><text x="240.10" y="136.60" font-size="10.4" class="dv">10<tspan dy="-4" font-size="7.3">0</tspan></text><line x1="236.10" y1="125.26" x2="237.10" y2="125.26" stroke="#555" stroke-width="0.3"/><line x1="236.10" y1="120.85" x2="237.10" y2="120.85" stroke="#555" stroke-width="0.3"/><line x1="236.10" y1="117.72" x2="237.10" y2="117.72" stroke="#555" stroke-width="0.3"/><line x1="236.10" y1="115.29" x2="237.10" y2="115.29" stroke="#555" stroke-width="0.3"/><line x1="236.10" y1="113.31" x2="237.10" y2="113.31" stroke="#555" stroke-width="0.3"/><line x1="236.10" y1="111.63" x2="237.10" y2="111.63" stroke="#555" stroke-width="0.3"/><line x1="236.10" y1="110.18" x2="237.10" y2="110.18" stroke="#555" stroke-width="0.3"/><line x1="236.10" y1="108.90" x2="237.10" y2="108.90" stroke="#555" stroke-width="0.3"/><line x1="236.10" y1="107.75" x2="237.90" y2="107.75" stroke="#222" stroke-width="0.6"/><text x="240.10" y="111.55" font-size="10.4" class="dv">10<tspan dy="-4" font-size="7.3">1</tspan></text><line x1="236.10" y1="100.21" x2="237.10" y2="100.21" stroke="#555" stroke-width="0.3"/><line x1="236.10" y1="95.80" x2="237.10" y2="95.80" stroke="#555" stroke-width="0.3"/><line x1="236.10" y1="92.67" x2="237.10" y2="92.67" stroke="#555" stroke-width="0.3"/><line x1="236.10" y1="90.24" x2="237.10" y2="90.24" stroke="#555" stroke-width="0.3"/><line x1="236.10" y1="88.26" x2="237.10" y2="88.26" stroke="#555" stroke-width="0.3"/>
<rect x="226.00" y="86.80" width="10.10" height="196.30" fill="none" stroke="#666" stroke-width="0.4"/>
<polygon points="118.40,183.70 119.32,186.34 122.11,186.39 119.88,188.08 120.69,190.76 118.40,189.16 116.11,190.76 116.92,188.08 114.69,186.39 117.48,186.34" fill="#ff1414"/>
<polygon points="147.50,115.00 148.42,117.64 151.21,117.69 148.98,119.38 149.79,122.06 147.50,120.46 145.21,122.06 146.02,119.38 143.79,117.69 146.58,117.64" fill="#ff1414"/>
<text x="104.8" y="187.2" font-size="12.8" class="dv" fill="#ff1414" stroke="#ff1414" stroke-width="0.25">A</text>
<text x="150.6" y="119" font-size="12.8" class="dv" fill="#ff1414" stroke="#ff1414" stroke-width="0.25">B</text>
<rect x="290.90" y="86.50" width="197.00" height="196.60" fill="none" stroke="#444" stroke-width="0.5"/>
<defs><linearGradient id="cb263" x1="0" y1="0" x2="0" y2="1"><stop offset="0.00" stop-color="#fde725"/><stop offset="0.05" stop-color="#dfe318"/><stop offset="0.10" stop-color="#bddf26"/><stop offset="0.15" stop-color="#9bd93c"/><stop offset="0.20" stop-color="#7ad151"/><stop offset="0.25" stop-color="#5ec962"/><stop offset="0.30" stop-color="#4ac16d"/><stop offset="0.35" stop-color="#35b779"/><stop offset="0.40" stop-color="#22a884"/><stop offset="0.45" stop-color="#1f9e89"/><stop offset="0.50" stop-color="#21918c"/><stop offset="0.55" stop-color="#25848e"/><stop offset="0.60" stop-color="#2a788e"/><stop offset="0.65" stop-color="#2f6c8e"/><stop offset="0.70" stop-color="#355f8d"/><stop offset="0.75" stop-color="#3b528b"/><stop offset="0.80" stop-color="#414487"/><stop offset="0.85" stop-color="#45347f"/><stop offset="0.90" stop-color="#482475"/><stop offset="0.95" stop-color="#471365"/><stop offset="1.00" stop-color="#440154"/></linearGradient></defs><rect x="489.90" y="86.80" width="10.10" height="196.30" fill="url(#cb263)"/><line x1="500.00" y1="283.10" x2="501.80" y2="283.10" stroke="#222" stroke-width="0.6"/><text x="504.00" y="286.90" font-size="10.4" class="dv">10<tspan dy="-4" font-size="7.3">−6</tspan></text><line x1="500.00" y1="275.56" x2="501.00" y2="275.56" stroke="#555" stroke-width="0.3"/><line x1="500.00" y1="271.15" x2="501.00" y2="271.15" stroke="#555" stroke-width="0.3"/><line x1="500.00" y1="268.02" x2="501.00" y2="268.02" stroke="#555" stroke-width="0.3"/><line x1="500.00" y1="265.59" x2="501.00" y2="265.59" stroke="#555" stroke-width="0.3"/><line x1="500.00" y1="263.61" x2="501.00" y2="263.61" stroke="#555" stroke-width="0.3"/><line x1="500.00" y1="261.93" x2="501.00" y2="261.93" stroke="#555" stroke-width="0.3"/><line x1="500.00" y1="260.48" x2="501.00" y2="260.48" stroke="#555" stroke-width="0.3"/><line x1="500.00" y1="259.20" x2="501.00" y2="259.20" stroke="#555" stroke-width="0.3"/><line x1="500.00" y1="258.05" x2="501.80" y2="258.05" stroke="#222" stroke-width="0.6"/><text x="504.00" y="261.85" font-size="10.4" class="dv">10<tspan dy="-4" font-size="7.3">−5</tspan></text><line x1="500.00" y1="250.51" x2="501.00" y2="250.51" stroke="#555" stroke-width="0.3"/><line x1="500.00" y1="246.10" x2="501.00" y2="246.10" stroke="#555" stroke-width="0.3"/><line x1="500.00" y1="242.97" x2="501.00" y2="242.97" stroke="#555" stroke-width="0.3"/><line x1="500.00" y1="240.54" x2="501.00" y2="240.54" stroke="#555" stroke-width="0.3"/><line x1="500.00" y1="238.56" x2="501.00" y2="238.56" stroke="#555" stroke-width="0.3"/><line x1="500.00" y1="236.88" x2="501.00" y2="236.88" stroke="#555" stroke-width="0.3"/><line x1="500.00" y1="235.43" x2="501.00" y2="235.43" stroke="#555" stroke-width="0.3"/><line x1="500.00" y1="234.15" x2="501.00" y2="234.15" stroke="#555" stroke-width="0.3"/><line x1="500.00" y1="233.00" x2="501.80" y2="233.00" stroke="#222" stroke-width="0.6"/><text x="504.00" y="236.80" font-size="10.4" class="dv">10<tspan dy="-4" font-size="7.3">−4</tspan></text><line x1="500.00" y1="225.46" x2="501.00" y2="225.46" stroke="#555" stroke-width="0.3"/><line x1="500.00" y1="221.05" x2="501.00" y2="221.05" stroke="#555" stroke-width="0.3"/><line x1="500.00" y1="217.92" x2="501.00" y2="217.92" stroke="#555" stroke-width="0.3"/><line x1="500.00" y1="215.49" x2="501.00" y2="215.49" stroke="#555" stroke-width="0.3"/><line x1="500.00" y1="213.51" x2="501.00" y2="213.51" stroke="#555" stroke-width="0.3"/><line x1="500.00" y1="211.83" x2="501.00" y2="211.83" stroke="#555" stroke-width="0.3"/><line x1="500.00" y1="210.38" x2="501.00" y2="210.38" stroke="#555" stroke-width="0.3"/><line x1="500.00" y1="209.10" x2="501.00" y2="209.10" stroke="#555" stroke-width="0.3"/><line x1="500.00" y1="207.95" x2="501.80" y2="207.95" stroke="#222" stroke-width="0.6"/><text x="504.00" y="211.75" font-size="10.4" class="dv">10<tspan dy="-4" font-size="7.3">−3</tspan></text><line x1="500.00" y1="200.41" x2="501.00" y2="200.41" stroke="#555" stroke-width="0.3"/><line x1="500.00" y1="196.00" x2="501.00" y2="196.00" stroke="#555" stroke-width="0.3"/><line x1="500.00" y1="192.87" x2="501.00" y2="192.87" stroke="#555" stroke-width="0.3"/><line x1="500.00" y1="190.44" x2="501.00" y2="190.44" stroke="#555" stroke-width="0.3"/><line x1="500.00" y1="188.46" x2="501.00" y2="188.46" stroke="#555" stroke-width="0.3"/><line x1="500.00" y1="186.78" x2="501.00" y2="186.78" stroke="#555" stroke-width="0.3"/><line x1="500.00" y1="185.33" x2="501.00" y2="185.33" stroke="#555" stroke-width="0.3"/><line x1="500.00" y1="184.05" x2="501.00" y2="184.05" stroke="#555" stroke-width="0.3"/><line x1="500.00" y1="182.90" x2="501.80" y2="182.90" stroke="#222" stroke-width="0.6"/><text x="504.00" y="186.70" font-size="10.4" class="dv">10<tspan dy="-4" font-size="7.3">−2</tspan></text><line x1="500.00" y1="175.36" x2="501.00" y2="175.36" stroke="#555" stroke-width="0.3"/><line x1="500.00" y1="170.95" x2="501.00" y2="170.95" stroke="#555" stroke-width="0.3"/><line x1="500.00" y1="167.82" x2="501.00" y2="167.82" stroke="#555" stroke-width="0.3"/><line x1="500.00" y1="165.39" x2="501.00" y2="165.39" stroke="#555" stroke-width="0.3"/><line x1="500.00" y1="163.41" x2="501.00" y2="163.41" stroke="#555" stroke-width="0.3"/><line x1="500.00" y1="161.73" x2="501.00" y2="161.73" stroke="#555" stroke-width="0.3"/><line x1="500.00" y1="160.28" x2="501.00" y2="160.28" stroke="#555" stroke-width="0.3"/><line x1="500.00" y1="159.00" x2="501.00" y2="159.00" stroke="#555" stroke-width="0.3"/><line x1="500.00" y1="157.85" x2="501.80" y2="157.85" stroke="#222" stroke-width="0.6"/><text x="504.00" y="161.65" font-size="10.4" class="dv">10<tspan dy="-4" font-size="7.3">−1</tspan></text><line x1="500.00" y1="150.31" x2="501.00" y2="150.31" stroke="#555" stroke-width="0.3"/><line x1="500.00" y1="145.90" x2="501.00" y2="145.90" stroke="#555" stroke-width="0.3"/><line x1="500.00" y1="142.77" x2="501.00" y2="142.77" stroke="#555" stroke-width="0.3"/><line x1="500.00" y1="140.34" x2="501.00" y2="140.34" stroke="#555" stroke-width="0.3"/><line x1="500.00" y1="138.36" x2="501.00" y2="138.36" stroke="#555" stroke-width="0.3"/><line x1="500.00" y1="136.68" x2="501.00" y2="136.68" stroke="#555" stroke-width="0.3"/><line x1="500.00" y1="135.23" x2="501.00" y2="135.23" stroke="#555" stroke-width="0.3"/><line x1="500.00" y1="133.95" x2="501.00" y2="133.95" stroke="#555" stroke-width="0.3"/><line x1="500.00" y1="132.80" x2="501.80" y2="132.80" stroke="#222" stroke-width="0.6"/><text x="504.00" y="136.60" font-size="10.4" class="dv">10<tspan dy="-4" font-size="7.3">0</tspan></text><line x1="500.00" y1="125.26" x2="501.00" y2="125.26" stroke="#555" stroke-width="0.3"/><line x1="500.00" y1="120.85" x2="501.00" y2="120.85" stroke="#555" stroke-width="0.3"/><line x1="500.00" y1="117.72" x2="501.00" y2="117.72" stroke="#555" stroke-width="0.3"/><line x1="500.00" y1="115.29" x2="501.00" y2="115.29" stroke="#555" stroke-width="0.3"/><line x1="500.00" y1="113.31" x2="501.00" y2="113.31" stroke="#555" stroke-width="0.3"/><line x1="500.00" y1="111.63" x2="501.00" y2="111.63" stroke="#555" stroke-width="0.3"/><line x1="500.00" y1="110.18" x2="501.00" y2="110.18" stroke="#555" stroke-width="0.3"/><line x1="500.00" y1="108.90" x2="501.00" y2="108.90" stroke="#555" stroke-width="0.3"/><line x1="500.00" y1="107.75" x2="501.80" y2="107.75" stroke="#222" stroke-width="0.6"/><text x="504.00" y="111.55" font-size="10.4" class="dv">10<tspan dy="-4" font-size="7.3">1</tspan></text><line x1="500.00" y1="100.21" x2="501.00" y2="100.21" stroke="#555" stroke-width="0.3"/><line x1="500.00" y1="95.80" x2="501.00" y2="95.80" stroke="#555" stroke-width="0.3"/><line x1="500.00" y1="92.67" x2="501.00" y2="92.67" stroke="#555" stroke-width="0.3"/><line x1="500.00" y1="90.24" x2="501.00" y2="90.24" stroke="#555" stroke-width="0.3"/><line x1="500.00" y1="88.26" x2="501.00" y2="88.26" stroke="#555" stroke-width="0.3"/>
<rect x="489.90" y="86.80" width="10.10" height="196.30" fill="none" stroke="#666" stroke-width="0.4"/>
<polygon points="382.30,183.70 383.22,186.34 386.01,186.39 383.78,188.08 384.59,190.76 382.30,189.16 380.01,190.76 380.82,188.08 378.59,186.39 381.38,186.34" fill="#ff1414"/>
<polygon points="411.40,115.00 412.32,117.64 415.11,117.69 412.88,119.38 413.69,122.06 411.40,120.46 409.11,122.06 409.92,119.38 407.69,117.69 410.48,117.64" fill="#ff1414"/>
<text x="368.7" y="187.2" font-size="12.8" class="dv" fill="#ff1414" stroke="#ff1414" stroke-width="0.25">A</text>
<text x="414.5" y="119" font-size="12.8" class="dv" fill="#ff1414" stroke="#ff1414" stroke-width="0.25">B</text>
<clipPath id="cc"><rect x="50.5" y="316.2" width="220" height="135.8"/></clipPath>
<g clip-path="url(#cc)"><path d="M60.2 331.3 L102.8 331.4 L103.6 331.6 L104.9 332.3 L105.7 332.9 L106.2 333.3 L106.6 334.0 L107.9 336.7 L108.3 338.0 L108.7 339.6 L109.1 341.7 L109.5 344.9 L110.1 352.1 L110.4 356.9 L111.2 379.7 L112.9 443.0 L113.0 443.7 L136.1 443.4 L138.2 443.2 L139.5 442.7 L143.3 440.5 L144.6 440.1 L152.1 439.1 L159.7 439.1 L160.2 439.4 L160.6 440.3 L161.4 442.5 L161.8 443.4 L162.3 443.7 L202.3 443.7 L203.6 443.5 L213.7 439.0 L220.0 438.1 L221.3 438.0 L221.7 438.5 L222.2 439.5 L223.0 442.3 L223.4 443.3 L223.8 443.7 L237.8 443.7 L241.6 442.8 L261.0 442.7" fill="none" stroke="#ff1a1a" stroke-width="1.25" stroke-linejoin="round"/><path d="M60.2 331.3 L87.6 331.4 L89.3 331.7 L92.3 332.9 L93.1 333.5 L96.9 338.1 L97.7 339.4 L98.6 341.1 L99.0 342.2 L99.4 344.1 L101.1 354.9 L103.2 372.0 L106.2 401.7 L107.0 412.9 L108.3 436.5 L108.7 443.0 L108.8 443.2 L202.8 443.7 L211.6 441.7 L220.5 441.2 L220.9 441.3 L221.3 441.6 L223.0 443.3 L223.4 443.6 L223.8 443.7 L261.0 443.7" fill="none" stroke="#80ff00" stroke-width="1.25" stroke-linejoin="round"/><path d="M60.2 331.3 L151.3 331.3 L151.7 331.3 L152.6 330.9 L153.0 330.8 L154.3 331.0 L155.5 331.3 L155.9 331.6 L157.6 333.4 L158.5 334.7 L159.1 336.0 L159.3 336.8 L159.7 338.8 L160.6 344.3 L161.0 347.4 L161.6 353.6 L161.8 358.0 L162.7 379.6 L163.1 393.5 L164.0 439.7 L164.1 444.3 L221.3 443.7 L261.0 436.5" fill="none" stroke="#00ffff" stroke-width="1.25" stroke-linejoin="round"/><path d="M60.2 331.3 L125.6 331.4 L126.4 331.6 L127.7 332.5 L128.2 332.9 L128.5 333.3 L128.9 334.2 L129.8 336.8 L130.2 338.5 L130.7 341.7 L131.1 345.8 L131.5 354.1 L131.9 367.6 L132.7 384.9 L133.2 396.4 L134.0 437.1 L134.3 444.3 L196.0 444.2 L212.0 439.6 L235.6 436.5 L236.7 436.5 L236.9 437.1 L237.8 442.8 L238.2 444.3 L261.0 444.3" fill="none" stroke="#8000ff" stroke-width="1.25" stroke-linejoin="round"/><path d="M60.2 331.3 L100.7 331.3 L101.1 331.0 L102.0 329.0 L102.4 328.2 L103.2 327.2 L103.6 326.8 L104.1 326.7 L104.5 326.9 L104.9 327.5 L105.7 329.3 L106.2 330.4 L108.7 340.5 L109.1 342.7 L109.5 346.0 L110.4 355.8 L112.2 390.9 L112.9 401.9 L113.3 406.5 L114.2 413.1 L116.7 428.3 L118.0 434.1 L118.8 437.2 L119.2 438.0 L120.1 439.0 L120.9 439.7 L124.7 441.5 L127.3 442.1 L137.8 442.7 L139.1 442.5 L144.1 440.2 L150.9 438.7 L159.7 438.6 L160.2 438.8 L160.6 439.4 L162.3 442.9 L162.7 443.5 L163.1 443.7 L202.3 443.7 L204.4 443.3 L214.1 439.4 L220.9 438.6 L221.3 438.6 L221.7 438.9 L222.2 439.8 L223.0 442.0 L223.4 442.9 L223.8 443.2 L261.0 443.2" fill="none" stroke="#ff1a1a" stroke-width="1.0" stroke-linejoin="round" stroke-dasharray="2.6 1.4"/><path d="M60.2 331.3 L86.3 331.3 L86.8 330.9 L87.6 329.2 L88.0 328.8 L88.9 328.9 L89.7 329.3 L90.1 329.7 L90.6 330.3 L92.3 333.9 L96.5 340.5 L97.3 342.1 L98.2 344.3 L98.6 346.0 L99.4 350.9 L101.5 365.9 L103.6 384.3 L105.7 406.2 L106.6 416.5 L107.4 429.4 L107.9 434.9 L108.7 439.8 L109.1 441.7 L109.5 442.7 L261.0 443.7" fill="none" stroke="#80ff00" stroke-width="1.0" stroke-linejoin="round" stroke-dasharray="2.6 1.4"/><path d="M60.2 331.3 L149.6 331.3 L150.0 330.9 L150.5 330.0 L152.1 325.3 L152.6 324.6 L152.6 324.6 L153.0 324.9 L153.4 325.7 L155.9 331.9 L157.2 334.3 L158.0 336.5 L158.9 339.5 L159.7 343.3 L160.7 349.5 L161.4 356.0 L162.3 367.6 L166.1 438.2 L166.5 443.2 L220.9 443.7 L261.0 436.5" fill="none" stroke="#00ffff" stroke-width="1.0" stroke-linejoin="round" stroke-dasharray="2.6 1.4"/><path d="M60.2 331.3 L122.6 331.3 L123.0 330.9 L123.5 329.9 L124.3 327.2 L125.1 323.7 L125.6 322.6 L125.7 322.5 L126.0 322.9 L126.4 324.1 L127.3 327.1 L128.2 331.3 L129.4 335.2 L129.8 336.9 L130.2 339.0 L130.6 341.9 L130.9 344.3 L131.1 346.7 L132.3 375.1 L132.7 383.1 L133.6 395.4 L134.4 404.6 L136.1 417.5 L137.4 425.1 L138.2 429.0 L139.1 432.1 L140.3 435.5 L141.2 437.2 L142.0 438.6 L143.3 440.1 L144.1 440.9 L147.5 442.4 L150.5 443.2 L171.5 443.7 L172.0 443.7 L172.4 443.4 L174.5 441.4 L176.6 440.5 L177.9 440.1 L186.7 440.1 L187.1 440.4 L187.6 441.1 L188.4 442.8 L188.8 443.5 L189.3 443.7 L199.0 443.2 L215.4 439.1 L236.5 437.0 L236.9 438.1 L237.8 442.7 L238.2 443.7 L261.0 443.7" fill="none" stroke="#8000ff" stroke-width="1.0" stroke-linejoin="round" stroke-dasharray="2.6 1.4"/></g>
<rect x="50.50" y="316.20" width="220.00" height="135.80" fill="none" stroke="#9a9a9a" stroke-width="0.8"/>
<text x="160.5" y="313.3" font-size="10.4" class="dv" text-anchor="middle">Point A</text>
<text x="160.5" y="472.4" font-size="10.7" class="dv" text-anchor="middle">Time (h)</text>
<text transform="translate(28.5,384.2) rotate(-90)" font-size="17.2" class="dv" text-anchor="middle">WTD (m)</text>
<line x1="60.20" y1="452" x2="60.20" y2="454.2" stroke="#333" stroke-width="0.5"/>
<text x="60.20" y="461" font-size="6.9" class="dv" text-anchor="middle" fill="#111" stroke="#111" stroke-width="0.12">0</text>
<line x1="93.94" y1="452" x2="93.94" y2="454.2" stroke="#333" stroke-width="0.5"/>
<text x="93.94" y="461" font-size="6.9" class="dv" text-anchor="middle" fill="#111" stroke="#111" stroke-width="0.12">20</text>
<line x1="127.68" y1="452" x2="127.68" y2="454.2" stroke="#333" stroke-width="0.5"/>
<text x="127.68" y="461" font-size="6.9" class="dv" text-anchor="middle" fill="#111" stroke="#111" stroke-width="0.12">40</text>
<line x1="161.42" y1="452" x2="161.42" y2="454.2" stroke="#333" stroke-width="0.5"/>
<text x="161.42" y="461" font-size="6.9" class="dv" text-anchor="middle" fill="#111" stroke="#111" stroke-width="0.12">60</text>
<line x1="195.16" y1="452" x2="195.16" y2="454.2" stroke="#333" stroke-width="0.5"/>
<text x="195.16" y="461" font-size="6.9" class="dv" text-anchor="middle" fill="#111" stroke="#111" stroke-width="0.12">80</text>
<line x1="228.90" y1="452" x2="228.90" y2="454.2" stroke="#333" stroke-width="0.5"/>
<text x="228.90" y="461" font-size="6.9" class="dv" text-anchor="middle" fill="#111" stroke="#111" stroke-width="0.12">100</text>
<line x1="262.64" y1="452" x2="262.64" y2="454.2" stroke="#333" stroke-width="0.5"/>
<text x="262.64" y="461" font-size="6.9" class="dv" text-anchor="middle" fill="#111" stroke="#111" stroke-width="0.12">120</text>
<line x1="48.3" y1="445.30" x2="50.5" y2="445.30" stroke="#333" stroke-width="0.5"/>
<text x="46.8" y="447.70" font-size="6.9" class="dv" text-anchor="end" fill="#111" stroke="#111" stroke-width="0.12">0.0</text>
<line x1="48.3" y1="419.40" x2="50.5" y2="419.40" stroke="#333" stroke-width="0.5"/>
<text x="46.8" y="421.80" font-size="6.9" class="dv" text-anchor="end" fill="#111" stroke="#111" stroke-width="0.12">0.5</text>
<line x1="48.3" y1="393.50" x2="50.5" y2="393.50" stroke="#333" stroke-width="0.5"/>
<text x="46.8" y="395.90" font-size="6.9" class="dv" text-anchor="end" fill="#111" stroke="#111" stroke-width="0.12">1.0</text>
<line x1="48.3" y1="367.60" x2="50.5" y2="367.60" stroke="#333" stroke-width="0.5"/>
<text x="46.8" y="370.00" font-size="6.9" class="dv" text-anchor="end" fill="#111" stroke="#111" stroke-width="0.12">1.5</text>
<line x1="48.3" y1="341.70" x2="50.5" y2="341.70" stroke="#333" stroke-width="0.5"/>
<text x="46.8" y="344.10" font-size="6.9" class="dv" text-anchor="end" fill="#111" stroke="#111" stroke-width="0.12">2.0</text>
<clipPath id="cd"><rect x="314.2" y="316.2" width="220.5" height="136.4"/></clipPath>
<g clip-path="url(#cd)"><path d="M324.4 390.9 L368.6 391.0 L372.0 391.6 L373.7 392.3 L374.5 392.9 L375.3 393.6 L376.6 395.3 L377.0 396.0 L377.9 398.1 L378.7 400.7 L379.6 404.2 L380.4 408.5 L382.2 420.8 L382.5 422.8 L382.8 426.2 L383.2 451.7 L524.8 451.7" fill="none" stroke="#ff1a1a" stroke-width="1.25" stroke-linejoin="round"/><path d="M324.4 390.9 L356.4 391.2 L360.2 392.2 L362.7 393.3 L364.0 394.2 L364.8 395.0 L368.6 400.4 L374.1 410.8 L380.4 426.0 L387.1 446.2 L388.4 449.5 L388.8 450.5 L389.2 450.9 L524.8 451.5" fill="none" stroke="#80ff00" stroke-width="1.25" stroke-linejoin="round"/><path d="M324.4 390.9 L415.3 390.9 L415.8 390.8 L417.0 389.8 L417.4 389.6 L417.9 389.6 L418.3 389.8 L419.5 390.7 L422.9 392.6 L425.0 394.3 L426.7 396.2 L428.0 398.1 L428.8 399.9 L430.9 405.8 L432.2 410.3 L433.0 413.8 L435.1 425.7 L436.0 431.6 L437.6 446.7 L438.1 449.3 L438.5 450.8 L501.2 450.6 L501.6 450.4 L502.5 449.3 L502.9 449.0 L524.8 448.6" fill="none" stroke="#00ffff" stroke-width="1.25" stroke-linejoin="round"/><path d="M324.4 390.9 L390.1 390.9 L393.0 391.6 L394.7 392.3 L396.0 393.1 L396.8 394.1 L397.2 394.9 L397.7 396.0 L398.9 400.8 L399.8 404.9 L401.0 412.8 L402.3 423.3 L402.7 427.3 L403.0 431.6 L403.4 451.7 L459.5 451.5 L500.4 449.3 L500.8 449.6 L501.6 451.2 L502.1 451.6 L524.8 451.6" fill="none" stroke="#8000ff" stroke-width="1.25" stroke-linejoin="round"/><path d="M324.4 390.9 L364.8 390.9 L365.2 390.8 L366.5 389.7 L366.9 389.6 L367.3 389.8 L368.6 390.7 L371.6 391.7 L372.8 392.5 L374.1 393.6 L374.9 394.7 L376.2 396.9 L377.0 398.7 L378.3 402.2 L379.1 405.0 L380.4 410.5 L381.2 415.1 L385.0 439.5 L385.4 441.5 L386.3 444.2 L387.1 446.2 L387.5 447.0 L388.0 447.4 L389.7 448.1 L391.3 448.3 L402.7 448.1 L415.3 445.7 L426.3 445.7 L426.7 446.0 L428.4 448.7 L429.6 450.3 L430.1 450.7 L430.5 450.9 L435.1 451.5 L485.6 451.3 L492.4 450.4 L524.8 451.3" fill="none" stroke="#ff1a1a" stroke-width="1.0" stroke-linejoin="round" stroke-dasharray="2.6 1.4"/><path d="M324.4 390.9 L349.7 390.9 L350.1 390.8 L350.9 390.0 L351.3 389.8 L351.8 390.0 L353.0 390.9 L356.4 392.3 L358.1 393.5 L361.0 396.3 L364.8 401.1 L374.9 419.4 L384.6 440.8 L386.3 445.0 L388.4 449.0 L388.8 449.7 L389.2 450.1 L389.7 450.4 L524.8 450.6" fill="none" stroke="#80ff00" stroke-width="1.0" stroke-linejoin="round" stroke-dasharray="2.6 1.4"/><path d="M324.4 390.9 L414.5 390.9 L414.9 390.8 L415.8 389.9 L416.2 389.6 L416.3 389.6 L416.6 389.6 L417.0 389.9 L418.3 391.1 L422.1 393.9 L423.3 395.1 L424.6 396.8 L426.3 399.7 L429.2 407.0 L431.8 414.9 L434.3 425.4 L435.5 431.6 L436.8 439.0 L437.6 442.9 L438.5 446.1 L439.8 449.3 L440.2 450.0 L440.6 450.4 L445.2 450.9 L499.5 450.0 L500.0 449.9 L502.1 448.5 L502.5 448.3 L524.8 447.9" fill="none" stroke="#00ffff" stroke-width="1.0" stroke-linejoin="round" stroke-dasharray="2.6 1.4"/><path d="M324.4 390.9 L387.5 390.9 L388.0 390.7 L388.8 389.8 L389.2 389.6 L389.7 389.7 L390.9 390.7 L393.4 392.0 L394.7 393.0 L395.5 393.8 L396.4 395.0 L397.2 396.8 L398.5 400.4 L399.3 403.8 L400.6 410.4 L403.5 433.0 L404.6 441.1 L405.2 444.7 L405.7 446.6 L406.5 448.7 L406.9 449.3 L408.6 450.1 L411.1 450.6 L499.5 447.9 L500.0 448.0 L500.8 448.6 L502.1 449.6 L502.5 449.9 L502.9 450.0 L524.8 450.4" fill="none" stroke="#8000ff" stroke-width="1.0" stroke-linejoin="round" stroke-dasharray="2.6 1.4"/></g>
<rect x="314.20" y="316.20" width="220.50" height="135.80" fill="none" stroke="#9a9a9a" stroke-width="0.8"/>
<text x="424.5" y="313.3" font-size="10.4" class="dv" text-anchor="middle">Point B</text>
<text x="424.5" y="472.4" font-size="10.7" class="dv" text-anchor="middle">Time (h)</text>
<line x1="324.40" y1="452" x2="324.40" y2="454.2" stroke="#333" stroke-width="0.5"/>
<text x="324.40" y="461" font-size="6.9" class="dv" text-anchor="middle" fill="#111" stroke="#111" stroke-width="0.12">0</text>
<line x1="358.08" y1="452" x2="358.08" y2="454.2" stroke="#333" stroke-width="0.5"/>
<text x="358.08" y="461" font-size="6.9" class="dv" text-anchor="middle" fill="#111" stroke="#111" stroke-width="0.12">20</text>
<line x1="391.76" y1="452" x2="391.76" y2="454.2" stroke="#333" stroke-width="0.5"/>
<text x="391.76" y="461" font-size="6.9" class="dv" text-anchor="middle" fill="#111" stroke="#111" stroke-width="0.12">40</text>
<line x1="425.44" y1="452" x2="425.44" y2="454.2" stroke="#333" stroke-width="0.5"/>
<text x="425.44" y="461" font-size="6.9" class="dv" text-anchor="middle" fill="#111" stroke="#111" stroke-width="0.12">60</text>
<line x1="459.12" y1="452" x2="459.12" y2="454.2" stroke="#333" stroke-width="0.5"/>
<text x="459.12" y="461" font-size="6.9" class="dv" text-anchor="middle" fill="#111" stroke="#111" stroke-width="0.12">80</text>
<line x1="492.80" y1="452" x2="492.80" y2="454.2" stroke="#333" stroke-width="0.5"/>
<text x="492.80" y="461" font-size="6.9" class="dv" text-anchor="middle" fill="#111" stroke="#111" stroke-width="0.12">100</text>
<line x1="526.48" y1="452" x2="526.48" y2="454.2" stroke="#333" stroke-width="0.5"/>
<text x="526.48" y="461" font-size="6.9" class="dv" text-anchor="middle" fill="#111" stroke="#111" stroke-width="0.12">120</text>
<line x1="312" y1="452.00" x2="314.2" y2="452.00" stroke="#333" stroke-width="0.5"/>
<text x="310.5" y="454.40" font-size="6.9" class="dv" text-anchor="end" fill="#111" stroke="#111" stroke-width="0.12">0</text>
<line x1="312" y1="424.86" x2="314.2" y2="424.86" stroke="#333" stroke-width="0.5"/>
<text x="310.5" y="427.26" font-size="6.9" class="dv" text-anchor="end" fill="#111" stroke="#111" stroke-width="0.12">2</text>
<line x1="312" y1="397.72" x2="314.2" y2="397.72" stroke="#333" stroke-width="0.5"/>
<text x="310.5" y="400.12" font-size="6.9" class="dv" text-anchor="end" fill="#111" stroke="#111" stroke-width="0.12">4</text>
<line x1="312" y1="370.58" x2="314.2" y2="370.58" stroke="#333" stroke-width="0.5"/>
<text x="310.5" y="372.98" font-size="6.9" class="dv" text-anchor="end" fill="#111" stroke="#111" stroke-width="0.12">6</text>
<line x1="312" y1="343.44" x2="314.2" y2="343.44" stroke="#333" stroke-width="0.5"/>
<text x="310.5" y="345.84" font-size="6.9" class="dv" text-anchor="end" fill="#111" stroke="#111" stroke-width="0.12">8</text>
<line x1="312" y1="316.30" x2="314.2" y2="316.30" stroke="#333" stroke-width="0.5"/>
<text x="310.5" y="318.70" font-size="6.9" class="dv" text-anchor="end" fill="#111" stroke="#111" stroke-width="0.12">10</text>
<rect x="458.9" y="320" width="72" height="61.1" rx="1.5" fill="#fff" fill-opacity="0.8" stroke="#ccc" stroke-width="0.6"/>
<line x1="462.2" y1="326.9" x2="478.2" y2="326.9" stroke="#ff1a1a" stroke-width="1.1"/>
<text x="484.6" y="329.6" font-size="7.6" class="dv">scenario 1</text>
<line x1="462.2" y1="338.4" x2="478.2" y2="338.4" stroke="#80ff00" stroke-width="1.1"/>
<text x="484.6" y="341.1" font-size="7.6" class="dv">scenario 2</text>
<line x1="462.2" y1="350.1" x2="478.2" y2="350.1" stroke="#00ffff" stroke-width="1.1"/>
<text x="484.6" y="352.8" font-size="7.6" class="dv">scenario 3</text>
<line x1="462.2" y1="361.8" x2="478.2" y2="361.8" stroke="#8000ff" stroke-width="1.1"/>
<text x="484.6" y="364.5" font-size="7.6" class="dv">scenario 4</text>
<line x1="462.2" y1="373.5" x2="478.2" y2="373.5" stroke="#000" stroke-width="0.8" stroke-dasharray="2.4 1.2"/>
<text x="484.6" y="376.2" font-size="7.6" class="dv">ParFlow-ML</text>
</svg>
</body></html>
